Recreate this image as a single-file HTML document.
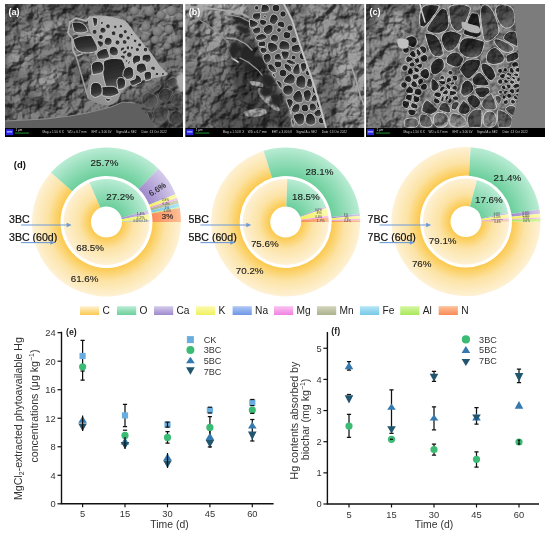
<!DOCTYPE html>
<html><head><meta charset="utf-8"><title>Figure</title>
<style>html,body{margin:0;padding:0;background:#fff;}svg{display:block;}</style>
</head><body>
<svg width="550" height="537" viewBox="0 0 550 537" font-family="'Liberation Sans', Arial, sans-serif">
<defs>

<filter id="blur3" x="-10%" y="-10%" width="120%" height="120%"><feGaussianBlur stdDeviation="2.6"/></filter>
<filter id="blur1" x="-10%" y="-10%" width="120%" height="120%"><feGaussianBlur stdDeviation="0.9"/></filter>
<filter id="blur05" x="-10%" y="-10%" width="120%" height="120%"><feGaussianBlur stdDeviation="0.45"/></filter>
<linearGradient id="pore" x1="0" y1="0" x2="0.3" y2="1"><stop offset="0" stop-color="#1c1c1c"/><stop offset="0.6" stop-color="#2e2e2e"/><stop offset="1" stop-color="#565656"/></linearGradient>
<linearGradient id="cellg" x1="0" y1="0" x2="0.2" y2="1"><stop offset="0" stop-color="#1e1e1e"/><stop offset="0.7" stop-color="#333"/><stop offset="1" stop-color="#5a5a5a"/></linearGradient>
<linearGradient id="cellg2" x1="0" y1="0" x2="0.2" y2="1"><stop offset="0" stop-color="#3a3a3a"/><stop offset="1" stop-color="#5e5e5e"/></linearGradient>
<linearGradient id="meshg" x1="1" y1="0" x2="0" y2="1"><stop offset="0.2" stop-color="#b4b4b4"/><stop offset="1" stop-color="#8a8a8a"/></linearGradient>
<radialGradient id="lump" cx="0.4" cy="0.35" r="0.65"><stop offset="0" stop-color="#8e8e8e"/><stop offset="0.7" stop-color="#767676"/><stop offset="1" stop-color="#585858"/></radialGradient>
<linearGradient id="cellg3" x1="0" y1="0" x2="0.3" y2="1"><stop offset="0" stop-color="#505050"/><stop offset="1" stop-color="#8a8a8a"/></linearGradient>
<linearGradient id="pore2" x1="0" y1="0" x2="0.2" y2="1"><stop offset="0" stop-color="#222"/><stop offset="1" stop-color="#3c3c3c"/></linearGradient>
<filter id="tex" x="0" y="0" width="100%" height="100%" color-interpolation-filters="sRGB">
 <feTurbulence type="fractalNoise" baseFrequency="0.085" numOctaves="4" seed="2"/>
 <feDiffuseLighting surfaceScale="7" lighting-color="#b4b4b4" diffuseConstant="1"><feDistantLight azimuth="225" elevation="50"/></feDiffuseLighting>
</filter>
<filter id="texB" x="0" y="0" width="100%" height="100%" color-interpolation-filters="sRGB">
 <feTurbulence type="fractalNoise" baseFrequency="0.085" numOctaves="4" seed="7"/>
 <feDiffuseLighting surfaceScale="7" lighting-color="#b4b4b4" diffuseConstant="1"><feDistantLight azimuth="225" elevation="50"/></feDiffuseLighting>
</filter>
<filter id="texC" x="0" y="0" width="100%" height="100%" color-interpolation-filters="sRGB">
 <feTurbulence type="fractalNoise" baseFrequency="0.085" numOctaves="4" seed="11"/>
 <feDiffuseLighting surfaceScale="7" lighting-color="#b4b4b4" diffuseConstant="1"><feDistantLight azimuth="225" elevation="50"/></feDiffuseLighting>
</filter>
<filter id="texF" x="0" y="0" width="100%" height="100%" color-interpolation-filters="sRGB">
 <feTurbulence type="fractalNoise" baseFrequency="0.12 0.05" numOctaves="4" seed="5"/>
 <feDiffuseLighting surfaceScale="7" lighting-color="#b4b4b4" diffuseConstant="1"><feDistantLight azimuth="225" elevation="50"/></feDiffuseLighting>
</filter>


<clipPath id="cpa"><rect x="5" y="4" width="178" height="124"/></clipPath>
<clipPath id="cpb"><rect x="185.3" y="4" width="178.9" height="124"/></clipPath>
<clipPath id="cpc"><rect x="366" y="4" width="179" height="124"/></clipPath>
<radialGradient id="g00C" gradientUnits="userSpaceOnUse" cx="106.50" cy="222.00" r="74.50"><stop offset="0.617" stop-color="rgb(251,201,78)"/><stop offset="0.790" stop-color="rgb(252,227,165)"/><stop offset="1" stop-color="rgb(254,241,212)"/></radialGradient>
<radialGradient id="g00O" gradientUnits="userSpaceOnUse" cx="106.50" cy="222.00" r="74.50"><stop offset="0.617" stop-color="rgb(108,207,156)"/><stop offset="0.866" stop-color="rgb(158,225,192)"/><stop offset="1" stop-color="rgb(186,236,212)"/></radialGradient>
<radialGradient id="g00Ca" gradientUnits="userSpaceOnUse" cx="106.50" cy="222.00" r="74.50"><stop offset="0.617" stop-color="rgb(158,138,204)"/><stop offset="0.866" stop-color="rgb(194,180,224)"/><stop offset="1" stop-color="rgb(214,204,236)"/></radialGradient>
<radialGradient id="g00K" gradientUnits="userSpaceOnUse" cx="106.50" cy="222.00" r="74.50"><stop offset="0.617" stop-color="rgb(240,240,96)"/><stop offset="0.866" stop-color="rgb(247,247,147)"/><stop offset="1" stop-color="rgb(251,251,175)"/></radialGradient>
<radialGradient id="g00Na" gradientUnits="userSpaceOnUse" cx="106.50" cy="222.00" r="74.50"><stop offset="0.617" stop-color="rgb(110,150,230)"/><stop offset="0.866" stop-color="rgb(152,182,239)"/><stop offset="1" stop-color="rgb(175,200,245)"/></radialGradient>
<radialGradient id="g00Mg" gradientUnits="userSpaceOnUse" cx="106.50" cy="222.00" r="74.50"><stop offset="0.617" stop-color="rgb(240,130,225)"/><stop offset="0.866" stop-color="rgb(246,172,236)"/><stop offset="1" stop-color="rgb(250,195,242)"/></radialGradient>
<radialGradient id="g00Mn" gradientUnits="userSpaceOnUse" cx="106.50" cy="222.00" r="74.50"><stop offset="0.617" stop-color="rgb(172,178,140)"/><stop offset="0.866" stop-color="rgb(198,200,171)"/><stop offset="1" stop-color="rgb(212,212,188)"/></radialGradient>
<radialGradient id="g00Fe" gradientUnits="userSpaceOnUse" cx="106.50" cy="222.00" r="74.50"><stop offset="0.617" stop-color="rgb(118,200,232)"/><stop offset="0.866" stop-color="rgb(159,219,241)"/><stop offset="1" stop-color="rgb(182,230,246)"/></radialGradient>
<radialGradient id="g00Al" gradientUnits="userSpaceOnUse" cx="106.50" cy="222.00" r="74.50"><stop offset="0.617" stop-color="rgb(170,232,90)"/><stop offset="0.866" stop-color="rgb(197,241,136)"/><stop offset="1" stop-color="rgb(212,246,162)"/></radialGradient>
<radialGradient id="g00N" gradientUnits="userSpaceOnUse" cx="106.50" cy="222.00" r="74.50"><stop offset="0.617" stop-color="rgb(250,140,88)"/><stop offset="0.866" stop-color="rgb(251,173,129)"/><stop offset="1" stop-color="rgb(253,192,152)"/></radialGradient>
<radialGradient id="g01C" gradientUnits="userSpaceOnUse" cx="106.50" cy="222.00" r="43.00"><stop offset="0.360" stop-color="rgb(251,201,78)"/><stop offset="0.629" stop-color="rgb(252,227,165)"/><stop offset="1" stop-color="rgb(254,241,212)"/></radialGradient>
<radialGradient id="g01O" gradientUnits="userSpaceOnUse" cx="106.50" cy="222.00" r="43.00"><stop offset="0.360" stop-color="rgb(108,207,156)"/><stop offset="0.776" stop-color="rgb(158,225,192)"/><stop offset="1" stop-color="rgb(186,236,212)"/></radialGradient>
<radialGradient id="g01Ca" gradientUnits="userSpaceOnUse" cx="106.50" cy="222.00" r="43.00"><stop offset="0.360" stop-color="rgb(158,138,204)"/><stop offset="0.776" stop-color="rgb(194,180,224)"/><stop offset="1" stop-color="rgb(214,204,236)"/></radialGradient>
<radialGradient id="g01K" gradientUnits="userSpaceOnUse" cx="106.50" cy="222.00" r="43.00"><stop offset="0.360" stop-color="rgb(240,240,96)"/><stop offset="0.776" stop-color="rgb(247,247,147)"/><stop offset="1" stop-color="rgb(251,251,175)"/></radialGradient>
<radialGradient id="g01Na" gradientUnits="userSpaceOnUse" cx="106.50" cy="222.00" r="43.00"><stop offset="0.360" stop-color="rgb(110,150,230)"/><stop offset="0.776" stop-color="rgb(152,182,239)"/><stop offset="1" stop-color="rgb(175,200,245)"/></radialGradient>
<radialGradient id="g01Mg" gradientUnits="userSpaceOnUse" cx="106.50" cy="222.00" r="43.00"><stop offset="0.360" stop-color="rgb(240,130,225)"/><stop offset="0.776" stop-color="rgb(246,172,236)"/><stop offset="1" stop-color="rgb(250,195,242)"/></radialGradient>
<radialGradient id="g01Mn" gradientUnits="userSpaceOnUse" cx="106.50" cy="222.00" r="43.00"><stop offset="0.360" stop-color="rgb(172,178,140)"/><stop offset="0.776" stop-color="rgb(198,200,171)"/><stop offset="1" stop-color="rgb(212,212,188)"/></radialGradient>
<radialGradient id="g01Fe" gradientUnits="userSpaceOnUse" cx="106.50" cy="222.00" r="43.00"><stop offset="0.360" stop-color="rgb(118,200,232)"/><stop offset="0.776" stop-color="rgb(159,219,241)"/><stop offset="1" stop-color="rgb(182,230,246)"/></radialGradient>
<radialGradient id="g01Al" gradientUnits="userSpaceOnUse" cx="106.50" cy="222.00" r="43.00"><stop offset="0.360" stop-color="rgb(170,232,90)"/><stop offset="0.776" stop-color="rgb(197,241,136)"/><stop offset="1" stop-color="rgb(212,246,162)"/></radialGradient>
<radialGradient id="g01N" gradientUnits="userSpaceOnUse" cx="106.50" cy="222.00" r="43.00"><stop offset="0.360" stop-color="rgb(250,140,88)"/><stop offset="0.776" stop-color="rgb(251,173,129)"/><stop offset="1" stop-color="rgb(253,192,152)"/></radialGradient>
<radialGradient id="g10C" gradientUnits="userSpaceOnUse" cx="285.70" cy="222.00" r="74.50"><stop offset="0.617" stop-color="rgb(251,201,78)"/><stop offset="0.790" stop-color="rgb(252,227,165)"/><stop offset="1" stop-color="rgb(254,241,212)"/></radialGradient>
<radialGradient id="g10O" gradientUnits="userSpaceOnUse" cx="285.70" cy="222.00" r="74.50"><stop offset="0.617" stop-color="rgb(108,207,156)"/><stop offset="0.866" stop-color="rgb(158,225,192)"/><stop offset="1" stop-color="rgb(186,236,212)"/></radialGradient>
<radialGradient id="g10Ca" gradientUnits="userSpaceOnUse" cx="285.70" cy="222.00" r="74.50"><stop offset="0.617" stop-color="rgb(158,138,204)"/><stop offset="0.866" stop-color="rgb(194,180,224)"/><stop offset="1" stop-color="rgb(214,204,236)"/></radialGradient>
<radialGradient id="g10K" gradientUnits="userSpaceOnUse" cx="285.70" cy="222.00" r="74.50"><stop offset="0.617" stop-color="rgb(240,240,96)"/><stop offset="0.866" stop-color="rgb(247,247,147)"/><stop offset="1" stop-color="rgb(251,251,175)"/></radialGradient>
<radialGradient id="g10Mg" gradientUnits="userSpaceOnUse" cx="285.70" cy="222.00" r="74.50"><stop offset="0.617" stop-color="rgb(240,130,225)"/><stop offset="0.866" stop-color="rgb(246,172,236)"/><stop offset="1" stop-color="rgb(250,195,242)"/></radialGradient>
<radialGradient id="g10Fe" gradientUnits="userSpaceOnUse" cx="285.70" cy="222.00" r="74.50"><stop offset="0.617" stop-color="rgb(118,200,232)"/><stop offset="0.866" stop-color="rgb(159,219,241)"/><stop offset="1" stop-color="rgb(182,230,246)"/></radialGradient>
<radialGradient id="g10N" gradientUnits="userSpaceOnUse" cx="285.70" cy="222.00" r="74.50"><stop offset="0.617" stop-color="rgb(250,140,88)"/><stop offset="0.866" stop-color="rgb(251,173,129)"/><stop offset="1" stop-color="rgb(253,192,152)"/></radialGradient>
<radialGradient id="g11C" gradientUnits="userSpaceOnUse" cx="285.70" cy="222.00" r="43.00"><stop offset="0.360" stop-color="rgb(251,201,78)"/><stop offset="0.629" stop-color="rgb(252,227,165)"/><stop offset="1" stop-color="rgb(254,241,212)"/></radialGradient>
<radialGradient id="g11O" gradientUnits="userSpaceOnUse" cx="285.70" cy="222.00" r="43.00"><stop offset="0.360" stop-color="rgb(108,207,156)"/><stop offset="0.776" stop-color="rgb(158,225,192)"/><stop offset="1" stop-color="rgb(186,236,212)"/></radialGradient>
<radialGradient id="g11Ca" gradientUnits="userSpaceOnUse" cx="285.70" cy="222.00" r="43.00"><stop offset="0.360" stop-color="rgb(158,138,204)"/><stop offset="0.776" stop-color="rgb(194,180,224)"/><stop offset="1" stop-color="rgb(214,204,236)"/></radialGradient>
<radialGradient id="g11K" gradientUnits="userSpaceOnUse" cx="285.70" cy="222.00" r="43.00"><stop offset="0.360" stop-color="rgb(240,240,96)"/><stop offset="0.776" stop-color="rgb(247,247,147)"/><stop offset="1" stop-color="rgb(251,251,175)"/></radialGradient>
<radialGradient id="g11Mg" gradientUnits="userSpaceOnUse" cx="285.70" cy="222.00" r="43.00"><stop offset="0.360" stop-color="rgb(240,130,225)"/><stop offset="0.776" stop-color="rgb(246,172,236)"/><stop offset="1" stop-color="rgb(250,195,242)"/></radialGradient>
<radialGradient id="g11N" gradientUnits="userSpaceOnUse" cx="285.70" cy="222.00" r="43.00"><stop offset="0.360" stop-color="rgb(250,140,88)"/><stop offset="0.776" stop-color="rgb(251,173,129)"/><stop offset="1" stop-color="rgb(253,192,152)"/></radialGradient>
<radialGradient id="g20C" gradientUnits="userSpaceOnUse" cx="466.00" cy="221.60" r="74.50"><stop offset="0.617" stop-color="rgb(251,201,78)"/><stop offset="0.790" stop-color="rgb(252,227,165)"/><stop offset="1" stop-color="rgb(254,241,212)"/></radialGradient>
<radialGradient id="g20O" gradientUnits="userSpaceOnUse" cx="466.00" cy="221.60" r="74.50"><stop offset="0.617" stop-color="rgb(108,207,156)"/><stop offset="0.866" stop-color="rgb(158,225,192)"/><stop offset="1" stop-color="rgb(186,236,212)"/></radialGradient>
<radialGradient id="g20Ca" gradientUnits="userSpaceOnUse" cx="466.00" cy="221.60" r="74.50"><stop offset="0.617" stop-color="rgb(158,138,204)"/><stop offset="0.866" stop-color="rgb(194,180,224)"/><stop offset="1" stop-color="rgb(214,204,236)"/></radialGradient>
<radialGradient id="g20K" gradientUnits="userSpaceOnUse" cx="466.00" cy="221.60" r="74.50"><stop offset="0.617" stop-color="rgb(240,240,96)"/><stop offset="0.866" stop-color="rgb(247,247,147)"/><stop offset="1" stop-color="rgb(251,251,175)"/></radialGradient>
<radialGradient id="g20Mg" gradientUnits="userSpaceOnUse" cx="466.00" cy="221.60" r="74.50"><stop offset="0.617" stop-color="rgb(240,130,225)"/><stop offset="0.866" stop-color="rgb(246,172,236)"/><stop offset="1" stop-color="rgb(250,195,242)"/></radialGradient>
<radialGradient id="g20Al" gradientUnits="userSpaceOnUse" cx="466.00" cy="221.60" r="74.50"><stop offset="0.617" stop-color="rgb(170,232,90)"/><stop offset="0.866" stop-color="rgb(197,241,136)"/><stop offset="1" stop-color="rgb(212,246,162)"/></radialGradient>
<radialGradient id="g21C" gradientUnits="userSpaceOnUse" cx="466.00" cy="221.60" r="43.00"><stop offset="0.360" stop-color="rgb(251,201,78)"/><stop offset="0.629" stop-color="rgb(252,227,165)"/><stop offset="1" stop-color="rgb(254,241,212)"/></radialGradient>
<radialGradient id="g21O" gradientUnits="userSpaceOnUse" cx="466.00" cy="221.60" r="43.00"><stop offset="0.360" stop-color="rgb(108,207,156)"/><stop offset="0.776" stop-color="rgb(158,225,192)"/><stop offset="1" stop-color="rgb(186,236,212)"/></radialGradient>
<radialGradient id="g21Ca" gradientUnits="userSpaceOnUse" cx="466.00" cy="221.60" r="43.00"><stop offset="0.360" stop-color="rgb(158,138,204)"/><stop offset="0.776" stop-color="rgb(194,180,224)"/><stop offset="1" stop-color="rgb(214,204,236)"/></radialGradient>
<radialGradient id="g21K" gradientUnits="userSpaceOnUse" cx="466.00" cy="221.60" r="43.00"><stop offset="0.360" stop-color="rgb(240,240,96)"/><stop offset="0.776" stop-color="rgb(247,247,147)"/><stop offset="1" stop-color="rgb(251,251,175)"/></radialGradient>
<radialGradient id="g21Mg" gradientUnits="userSpaceOnUse" cx="466.00" cy="221.60" r="43.00"><stop offset="0.360" stop-color="rgb(240,130,225)"/><stop offset="0.776" stop-color="rgb(246,172,236)"/><stop offset="1" stop-color="rgb(250,195,242)"/></radialGradient>
<radialGradient id="g21Mn" gradientUnits="userSpaceOnUse" cx="466.00" cy="221.60" r="43.00"><stop offset="0.360" stop-color="rgb(172,178,140)"/><stop offset="0.776" stop-color="rgb(198,200,171)"/><stop offset="1" stop-color="rgb(212,212,188)"/></radialGradient>
<radialGradient id="g21N" gradientUnits="userSpaceOnUse" cx="466.00" cy="221.60" r="43.00"><stop offset="0.360" stop-color="rgb(250,140,88)"/><stop offset="0.776" stop-color="rgb(251,173,129)"/><stop offset="1" stop-color="rgb(253,192,152)"/></radialGradient>
<linearGradient id="lgC" x1="0" y1="0" x2="0" y2="1"><stop offset="0" stop-color="rgb(254,241,212)"/><stop offset="1" stop-color="rgb(251,201,78)"/></linearGradient>
<linearGradient id="lgO" x1="0" y1="0" x2="0" y2="1"><stop offset="0" stop-color="rgb(186,236,212)"/><stop offset="1" stop-color="rgb(108,207,156)"/></linearGradient>
<linearGradient id="lgCa" x1="0" y1="0" x2="0" y2="1"><stop offset="0" stop-color="rgb(214,204,236)"/><stop offset="1" stop-color="rgb(158,138,204)"/></linearGradient>
<linearGradient id="lgK" x1="0" y1="0" x2="0" y2="1"><stop offset="0" stop-color="rgb(251,251,175)"/><stop offset="1" stop-color="rgb(240,240,96)"/></linearGradient>
<linearGradient id="lgNa" x1="0" y1="0" x2="0" y2="1"><stop offset="0" stop-color="rgb(175,200,245)"/><stop offset="1" stop-color="rgb(110,150,230)"/></linearGradient>
<linearGradient id="lgMg" x1="0" y1="0" x2="0" y2="1"><stop offset="0" stop-color="rgb(250,195,242)"/><stop offset="1" stop-color="rgb(240,130,225)"/></linearGradient>
<linearGradient id="lgMn" x1="0" y1="0" x2="0" y2="1"><stop offset="0" stop-color="rgb(212,212,188)"/><stop offset="1" stop-color="rgb(172,178,140)"/></linearGradient>
<linearGradient id="lgFe" x1="0" y1="0" x2="0" y2="1"><stop offset="0" stop-color="rgb(182,230,246)"/><stop offset="1" stop-color="rgb(118,200,232)"/></linearGradient>
<linearGradient id="lgAl" x1="0" y1="0" x2="0" y2="1"><stop offset="0" stop-color="rgb(212,246,162)"/><stop offset="1" stop-color="rgb(170,232,90)"/></linearGradient>
<linearGradient id="lgN" x1="0" y1="0" x2="0" y2="1"><stop offset="0" stop-color="rgb(253,192,152)"/><stop offset="1" stop-color="rgb(250,140,88)"/></linearGradient>

</defs>
<rect width="550" height="537" fill="#fff"/>
<g clip-path="url(#cpa)" style="isolation:isolate">
<g filter="url(#blur3)"><rect x="0" y="0" width="190" height="135" fill="#686868"/><polygon points="0.0,0.0 32.0,0.0 18.0,14.0 8.0,32.0 0.0,34.0" fill="#454545"/><polygon points="38.0,0.0 125.0,0.0 118.0,14.0 90.0,13.0 70.0,16.0 50.0,11.0" fill="#4e4e4e"/><ellipse cx="36.0" cy="37.0" rx="15.0" ry="8.0" fill="#828282" transform="rotate(-15 36.0 37.0)"/><ellipse cx="55.0" cy="26.0" rx="10.0" ry="6.0" fill="#7a7a7a"/><ellipse cx="18.0" cy="60.0" rx="11.0" ry="8.0" fill="#7a7a7a"/><ellipse cx="48.0" cy="80.0" rx="14.0" ry="10.0" fill="#7c7c7c"/><ellipse cx="28.0" cy="45.0" rx="4.0" ry="6.0" fill="#474747"/><ellipse cx="15.0" cy="76.0" rx="5.0" ry="8.0" fill="#4d4d4d"/><ellipse cx="30.0" cy="101.0" rx="6.0" ry="7.0" fill="#444444"/><ellipse cx="40.0" cy="104.0" rx="4.0" ry="6.0" fill="#404040"/><ellipse cx="56.0" cy="95.0" rx="4.0" ry="5.0" fill="#4f4f4f"/><ellipse cx="45.0" cy="63.0" rx="5.0" ry="4.0" fill="#525252"/><ellipse cx="78.0" cy="70.0" rx="6.0" ry="6.0" fill="#505050"/><ellipse cx="85.0" cy="75.0" rx="4.0" ry="8.0" fill="#4a4a4a"/><polygon points="0.0,0.0 8.0,0.0 8.0,135.0 0.0,135.0" fill="#505050"/><polygon points="110.0,0.0 190.0,0.0 190.0,70.0 168.0,70.0 150.0,45.0 125.0,18.0" fill="#616161"/><ellipse cx="150.0" cy="10.0" rx="5.0" ry="4.5" fill="#8a8a8a"/><ellipse cx="168.0" cy="13.0" rx="6.0" ry="5.4" fill="#868686"/><ellipse cx="145.0" cy="28.0" rx="5.0" ry="4.5" fill="#878787"/><ellipse cx="158.0" cy="31.0" rx="5.0" ry="4.5" fill="#888888"/><ellipse cx="150.0" cy="39.0" rx="4.0" ry="3.6" fill="#7f7f7f"/><ellipse cx="170.0" cy="36.0" rx="5.0" ry="4.5" fill="#7e7e7e"/><ellipse cx="178.0" cy="20.0" rx="5.0" ry="4.5" fill="#8c8c8c"/><ellipse cx="135.0" cy="12.0" rx="4.0" ry="3.6" fill="#757575"/><ellipse cx="162.0" cy="48.0" rx="4.0" ry="3.6" fill="#7a7a7a"/><ellipse cx="176.0" cy="52.0" rx="4.0" ry="3.6" fill="#6e6e6e"/><ellipse cx="130.0" cy="8.0" rx="5.0" ry="4.5" fill="#505050"/><polygon points="110.0,0.0 190.0,0.0 190.0,5.0 110.0,6.0" fill="#4a4a4a"/><polygon points="132.0,100.0 150.0,88.0 165.0,78.0 190.0,68.0 190.0,135.0 160.0,135.0 145.0,112.0" fill="#4a4a4a"/><ellipse cx="183.0" cy="82.0" rx="6.0" ry="10.0" fill="#a8a8a8"/><ellipse cx="120.0" cy="98.0" rx="12.0" ry="6.0" fill="#5a5a5a"/></g>
<rect x="5" y="4" width="178" height="124" filter="url(#tex)" style="mix-blend-mode:overlay" opacity="0.65"/>
<g filter="url(#blur05)"><circle cx="149.5" cy="10.9" r="5.2" fill="url(#lump)"/><circle cx="161.0" cy="15.0" r="4.6" fill="url(#lump)"/><circle cx="171.4" cy="10.9" r="5.2" fill="url(#lump)"/><circle cx="179.5" cy="16.7" r="4.0" fill="url(#lump)"/><circle cx="146.0" cy="27.0" r="4.6" fill="url(#lump)"/><circle cx="157.6" cy="31.7" r="5.2" fill="url(#lump)"/><circle cx="144.9" cy="37.4" r="4.0" fill="url(#lump)"/><circle cx="155.3" cy="39.8" r="4.0" fill="url(#lump)"/><circle cx="169.0" cy="29.4" r="4.6" fill="url(#lump)"/><circle cx="175.0" cy="38.6" r="4.0" fill="url(#lump)"/><circle cx="134.5" cy="10.9" r="4.4" fill="url(#lump)"/><circle cx="130.0" cy="19.0" r="3.4" fill="url(#lump)"/><circle cx="167.0" cy="46.0" r="3.6" fill="url(#lump)"/><circle cx="178.0" cy="52.0" r="3.5" fill="url(#lump)"/><circle cx="160.0" cy="52.0" r="3.0" fill="url(#lump)"/></g>
<g opacity="0.5"><g filter="url(#blur05)"><path d="M148.1,92.0 Q147.4,92.1 146.3,92.7 Q145.1,93.3 144.2,94.2 Q143.3,95.1 142.7,96.3 Q142.1,97.4 141.9,98.7 Q141.7,100.0 141.9,101.3 Q142.1,102.6 142.7,103.7 Q143.3,104.9 144.2,105.8 Q145.1,106.7 146.3,107.3 Q147.4,107.9 148.7,108.1 Q150.0,108.3 151.3,108.1 Q152.6,107.9 153.5,107.4 Q154.5,106.9 155.6,105.9 Q156.7,104.9 157.3,103.7 Q157.9,102.6 158.0,101.6 Q158.2,100.6 157.1,97.8 Q156.0,95.0 152.3,93.5 Q148.7,91.9 148.1,92.0Z" fill="url(#cellg2)" stroke="#8a8a8a" stroke-width="1"/><path d="M172.9,91.8 Q172.9,91.4 168.7,89.0 Q164.5,86.5 160.9,90.6 Q157.3,94.6 158.4,97.4 Q159.5,100.1 159.8,100.4 Q160.1,100.7 161.3,101.3 Q162.4,101.9 163.7,102.1 Q165.0,102.3 166.3,102.1 Q167.6,101.9 168.2,101.6 Q168.8,101.3 170.9,96.7 Q173.0,92.1 172.9,91.8Z" fill="url(#cellg)" stroke="#8a8a8a" stroke-width="1"/><path d="M170.9,101.3 Q171.1,102.3 171.6,103.3 Q172.1,104.3 172.9,105.1 Q173.7,105.9 174.7,106.4 Q175.7,106.9 176.9,107.1 Q178.0,107.3 179.1,107.1 Q180.3,106.9 181.3,106.4 Q182.3,105.9 182.3,100.0 Q182.3,94.1 181.3,93.6 Q180.3,93.1 179.1,92.9 Q178.0,92.7 176.9,92.9 Q175.7,93.1 174.7,93.6 Q173.7,94.1 172.2,97.2 Q170.8,100.3 170.9,101.3Z" fill="url(#cellg2)" stroke="#8a8a8a" stroke-width="1"/><path d="M147.2,110.9 Q146.1,110.7 146.4,111.2 Q146.7,111.8 148.8,117.5 Q151.0,123.2 151.4,122.8 Q151.9,122.3 152.4,121.3 Q152.9,120.3 153.1,119.1 Q153.3,118.0 152.9,116.4 Q152.5,114.8 152.2,114.3 Q151.9,113.7 151.1,112.9 Q150.3,112.1 149.3,111.6 Q148.3,111.1 147.2,110.9Z" fill="url(#cellg)" stroke="#8a8a8a" stroke-width="1"/><path d="M167.8,115.6 Q168.9,111.4 168.3,110.3 Q167.7,109.1 166.8,108.2 Q165.9,107.3 164.7,106.7 Q163.6,106.1 162.3,105.9 Q161.0,105.7 159.7,105.9 Q158.4,106.1 157.5,106.6 Q156.5,107.1 155.4,108.1 Q154.3,109.1 153.7,110.4 Q153.1,111.7 154.2,115.8 Q155.2,119.8 155.7,120.3 Q156.1,120.7 157.3,121.3 Q158.4,121.9 159.7,122.1 Q161.0,122.3 162.3,122.1 Q163.6,121.9 164.7,121.3 Q165.9,120.7 166.3,120.3 Q166.8,119.8 167.8,115.6Z" fill="url(#cellg2)" stroke="#8a8a8a" stroke-width="1"/><path d="M169.1,116.4 Q168.7,118.0 168.9,119.1 Q169.1,120.3 169.6,121.3 Q170.1,122.3 170.9,123.1 Q171.7,123.9 172.7,124.4 Q173.7,124.9 174.9,125.1 Q176.0,125.3 177.1,125.1 Q178.3,124.9 179.3,124.4 Q180.3,123.9 181.1,123.1 Q181.9,122.3 182.1,121.9 Q182.3,121.5 182.3,118.0 Q182.3,114.5 182.1,114.1 Q181.9,113.7 181.1,112.9 Q180.3,112.1 179.3,111.6 Q178.3,111.1 177.1,110.9 Q176.0,110.7 174.9,110.9 Q173.7,111.1 172.7,111.6 Q171.7,112.1 170.9,112.9 Q170.1,113.7 169.8,114.3 Q169.5,114.8 169.1,116.4Z" fill="url(#cellg)" stroke="#8a8a8a" stroke-width="1"/><path d="M176.7,79.6 Q176.3,78.9 175.7,78.3 Q175.1,77.7 174.3,77.3 Q173.6,77.0 170.4,78.4 Q167.3,79.8 167.1,80.1 Q167.0,80.4 166.8,81.2 Q166.7,82.0 166.8,82.8 Q167.0,83.6 167.3,84.4 Q167.7,85.1 168.3,85.7 Q168.9,86.3 169.6,86.7 Q170.4,87.0 171.2,87.2 Q172.0,87.3 172.8,87.2 Q173.6,87.0 174.4,86.7 Q175.1,86.3 175.7,85.7 Q176.3,85.1 176.7,84.4 Q177.0,83.6 177.2,82.8 Q177.3,82.0 177.2,81.2 Q177.0,80.4 176.7,79.6Z" fill="url(#cellg)" stroke="#8a8a8a" stroke-width="1"/><path d="M155.8,85.7 Q152.1,87.7 152.3,88.1 Q152.5,88.5 153.0,89.0 Q153.5,89.5 154.1,89.8 Q154.7,90.1 155.3,90.2 Q156.0,90.3 156.7,90.2 Q157.3,90.1 157.9,89.8 Q158.5,89.5 159.0,89.0 Q159.5,88.5 159.8,87.9 Q160.1,87.3 160.2,86.7 Q160.3,86.0 160.2,85.3 Q160.1,84.7 159.8,84.2 Q159.6,83.7 155.8,85.7Z" fill="url(#cellg2)" stroke="#8a8a8a" stroke-width="1"/></g></g>
<g filter="url(#blur1)"><ellipse cx="183.0" cy="82.0" rx="5.0" ry="9.0" fill="#a8a8a8"/></g>
<g filter="url(#blur05)"><polygon points="0.0,121.0 45.0,119.0 70.0,116.0 87.0,113.0 111.0,107.0 123.0,102.0 135.0,103.0 143.0,110.0 152.0,121.0 158.0,135.0 0.0,135.0" fill="#5f5f5f"/></g>
<polyline points="6.0,121.0 45.0,119.0 70.0,116.0 87.0,113.0 111.0,107.0 123.0,102.0 135.0,103.0" fill="none" stroke="#8c8c8c" stroke-width="1" stroke-linejoin="round" stroke-linecap="round" filter="url(#blur05)"/>
<g filter="url(#blur05)"><path d="M90.0,17.0 C92.0,15.6 96.7,15.6 100.0,15.5 C103.3,15.4 106.7,15.9 110.0,16.5 C113.3,17.1 117.5,18.2 120.0,19.0 C122.5,19.8 123.3,19.8 125.0,21.0 C126.7,22.2 127.5,22.7 130.0,26.0 C132.5,29.3 136.3,36.3 140.0,41.0 C143.7,45.7 148.7,49.8 152.0,54.0 C155.3,58.2 157.5,62.8 160.0,66.0 C162.5,69.2 166.0,71.4 167.0,73.0 C168.0,74.6 167.7,74.8 166.0,75.5 C164.3,76.2 160.0,76.7 157.0,77.4 C154.0,78.1 151.3,78.8 148.0,79.6 C144.7,80.4 140.5,80.7 137.0,82.0 C133.5,83.3 129.7,85.7 127.0,87.5 C124.3,89.3 122.5,90.9 121.0,93.0 C119.5,95.1 119.8,98.0 118.0,100.0 C116.2,102.0 113.0,104.3 110.0,105.0 C107.0,105.7 103.0,104.7 100.0,104.0 C97.0,103.3 94.2,102.2 92.0,101.0 C89.8,99.8 87.7,99.7 87.0,97.0 C86.3,94.3 86.7,90.8 88.0,85.0 C89.3,79.2 93.2,67.5 95.0,62.0 C96.8,56.5 99.5,56.3 99.0,52.0 C98.5,47.7 93.8,40.7 92.0,36.0 C90.2,31.3 88.3,27.2 88.0,24.0 C87.7,20.8 88.0,18.4 90.0,17.0Z" fill="url(#meshg)"/><path d="M100.0,20.0 C101.7,14.0 116.7,18.2 125.0,24.0 C133.3,29.8 147.5,47.3 150.0,55.0 C152.5,62.7 145.8,69.2 140.0,70.0 C134.2,70.8 121.7,68.3 115.0,60.0 C108.3,51.7 98.3,26.0 100.0,20.0Z" fill="#b0b0b0"/><polyline points="70.0,22.0 76.0,18.0 86.0,21.0 90.0,17.0" fill="none" stroke="#b0b0b0" stroke-width="1.8" stroke-linejoin="round" stroke-linecap="round"/><polyline points="70.0,22.0 68.0,33.0 72.0,38.0 73.0,50.0 76.0,56.0 82.0,54.0" fill="none" stroke="#aaaaaa" stroke-width="1.8" stroke-linejoin="round" stroke-linecap="round"/><polyline points="74.0,34.0 82.0,34.0 90.0,34.0 96.0,40.0 99.0,48.0 95.0,54.0" fill="none" stroke="#a8a8a8" stroke-width="1.6" stroke-linejoin="round" stroke-linecap="round"/><polyline points="76.0,56.0 80.0,70.0 84.0,84.0 88.0,97.0" fill="none" stroke="#9c9c9c" stroke-width="1.5" stroke-linejoin="round" stroke-linecap="round"/><polygon points="73.9,39.8 80.6,36.4 90.7,35.8 98.5,48.7 94.0,52.0 81.8,53.2 76.2,48.7" fill="none"/></g>
<g filter="url(#blur05)"><path d="M74.1,44.1 Q75.0,48.5 78.3,51.0 Q81.6,53.5 88.2,53.0 Q94.8,52.5 96.9,50.8 Q99.0,49.1 95.3,42.4 Q91.6,35.6 91.3,35.5 Q91.1,35.4 85.6,35.6 Q80.2,35.9 76.8,37.6 Q73.4,39.2 73.3,39.4 Q73.2,39.7 74.1,44.1Z" fill="url(#cellg)" stroke="#cdcdcd" stroke-width="0.9"/><path d="M73.0,27.3 Q74.1,31.8 74.4,32.0 Q74.6,32.2 78.2,32.7 Q81.9,33.3 84.8,32.4 Q87.7,31.4 87.8,31.2 Q87.9,30.9 86.7,27.9 Q85.5,25.0 82.4,23.3 Q79.3,21.7 75.7,22.0 Q72.2,22.2 72.0,22.5 Q71.8,22.7 73.0,27.3Z" fill="url(#cellg)" stroke="#cdcdcd" stroke-width="0.9"/><path d="M93.0,21.8 Q93.6,26.1 93.8,26.3 Q94.0,26.5 95.8,26.1 Q97.6,25.7 97.6,22.1 Q97.7,18.6 97.5,18.4 Q97.4,18.2 95.1,17.7 Q92.9,17.1 92.7,17.2 Q92.5,17.2 92.4,17.4 Q92.4,17.6 93.0,21.8Z" fill="url(#cellg)" stroke="#cdcdcd" stroke-width="0.9"/><path d="M103.0,67.6 Q102.2,74.1 104.1,80.4 Q105.9,86.8 106.2,87.0 Q106.4,87.2 111.7,88.0 Q117.1,88.8 117.3,88.7 Q117.6,88.6 120.9,84.7 Q124.2,80.8 125.2,74.1 Q126.3,67.4 124.2,63.3 Q122.0,59.3 121.8,59.2 Q121.6,59.0 116.6,58.5 Q111.6,58.0 107.9,59.3 Q104.1,60.7 103.9,60.9 Q103.8,61.1 103.0,67.6Z" fill="url(#cellg)" stroke="#cdcdcd" stroke-width="0.9"/><path d="M123.5,71.2 Q122.7,75.2 122.8,75.5 Q122.9,75.7 124.8,77.7 Q126.8,79.7 127.0,79.7 Q127.3,79.8 130.8,78.8 Q134.2,77.7 133.7,72.0 Q133.1,66.2 128.6,66.7 Q124.2,67.3 123.5,71.2Z" fill="url(#cellg)" stroke="#cdcdcd" stroke-width="0.9"/><path d="M136.3,67.1 Q136.3,70.2 136.4,70.4 Q136.5,70.6 138.4,72.1 Q140.4,73.6 140.7,73.6 Q140.9,73.7 143.9,72.1 Q146.8,70.6 146.9,70.4 Q147.0,70.1 145.9,66.2 Q144.8,62.3 140.6,63.2 Q136.4,64.1 136.3,67.1Z" fill="url(#cellg)" stroke="#cdcdcd" stroke-width="0.9"/><path d="M144.2,76.1 Q145.0,80.2 145.3,80.3 Q145.5,80.5 147.2,80.3 Q148.8,80.0 150.3,79.6 Q151.8,79.3 151.7,75.0 Q151.7,70.8 147.5,71.4 Q143.4,71.9 144.2,76.1Z" fill="url(#cellg)" stroke="#cdcdcd" stroke-width="0.9"/><path d="M117.0,83.5 Q117.9,89.5 118.2,89.7 Q118.4,89.8 122.0,88.9 Q125.6,88.0 125.6,82.8 Q125.6,77.5 120.8,77.5 Q116.1,77.5 117.0,83.5Z" fill="url(#cellg)" stroke="#cdcdcd" stroke-width="0.9"/><path d="M101.7,91.2 Q102.2,95.3 102.4,95.5 Q102.5,95.6 106.5,96.6 Q110.6,97.5 114.9,95.5 Q119.2,93.4 119.3,93.2 Q119.4,92.9 117.7,89.4 Q116.1,85.8 108.9,86.3 Q101.6,86.8 101.4,87.0 Q101.3,87.2 101.7,91.2Z" fill="url(#cellg)" stroke="#cdcdcd" stroke-width="0.9"/><path d="M90.6,88.3 Q90.5,94.2 90.6,94.5 Q90.8,94.7 92.7,96.2 Q94.7,97.6 95.0,97.6 Q95.3,97.7 99.2,96.0 Q103.1,94.3 102.0,88.3 Q100.9,82.4 95.8,82.4 Q90.6,82.4 90.6,88.3Z" fill="url(#cellg)" stroke="#cdcdcd" stroke-width="0.9"/><path d="M91.5,68.4 Q92.4,74.5 92.7,74.6 Q92.9,74.8 98.8,73.7 Q104.7,72.6 103.7,66.5 Q102.6,60.5 96.5,61.4 Q90.5,62.4 91.5,68.4Z" fill="url(#cellg)" stroke="#cdcdcd" stroke-width="0.9"/><path d="M107.8,98.4 Q105.6,97.9 105.6,98.7 Q105.6,99.5 105.8,99.9 Q106.0,100.2 106.7,100.7 Q107.4,101.3 108.3,101.3 Q109.2,101.3 109.6,101.1 Q109.9,100.9 110.4,100.2 Q111.0,99.5 111.0,99.2 Q111.1,98.8 110.5,98.9 Q109.9,98.9 107.8,98.4Z" fill="url(#pore)" stroke="#cdcdcd" stroke-width="0.9"/><path d="M103.1,22.1 Q102.8,21.8 102.4,21.6 Q101.9,21.5 101.3,21.8 Q100.7,22.1 100.5,22.8 Q100.4,23.5 100.7,23.9 Q101.0,24.2 101.4,24.4 Q101.9,24.5 102.5,24.2 Q103.1,23.9 103.3,23.2 Q103.4,22.5 103.1,22.1Z" fill="url(#pore2)" stroke="#cdcdcd" stroke-width="0.9"/><path d="M109.9,24.9 Q109.4,24.3 108.7,24.1 Q108.0,23.9 107.6,23.9 Q107.2,24.0 106.6,24.4 Q106.0,24.9 105.8,25.2 Q105.7,25.5 105.7,26.3 Q105.7,27.1 106.1,27.7 Q106.6,28.3 107.3,28.5 Q108.0,28.7 108.4,28.7 Q108.8,28.6 109.4,28.2 Q110.0,27.7 110.2,27.4 Q110.3,27.1 110.3,26.3 Q110.3,25.5 109.9,24.9Z" fill="url(#pore2)" stroke="#cdcdcd" stroke-width="0.9"/><path d="M116.6,25.6 Q116.4,25.4 115.8,25.3 Q115.3,25.1 114.8,25.3 Q114.2,25.4 114.0,25.6 Q113.8,25.8 113.7,26.1 Q113.6,26.3 113.6,26.9 Q113.6,27.5 113.9,27.9 Q114.2,28.4 114.8,28.5 Q115.3,28.7 115.8,28.5 Q116.4,28.4 116.6,28.2 Q116.8,28.0 116.9,27.4 Q117.1,26.9 116.9,26.4 Q116.8,25.8 116.6,25.6Z" fill="url(#pore2)" stroke="#cdcdcd" stroke-width="0.9"/><path d="M122.2,25.4 Q121.9,25.0 121.4,24.8 Q120.9,24.6 120.4,24.8 Q119.9,25.0 119.7,25.1 Q119.6,25.3 119.4,25.6 Q119.3,25.8 119.3,26.3 Q119.3,26.8 119.6,27.2 Q119.9,27.6 120.4,27.8 Q120.9,28.0 121.4,27.8 Q121.9,27.6 122.1,27.5 Q122.2,27.3 122.4,27.0 Q122.5,26.8 122.5,26.3 Q122.5,25.8 122.2,25.4Z" fill="url(#pore2)" stroke="#cdcdcd" stroke-width="0.9"/><path d="M96.4,30.1 Q96.1,29.8 95.4,29.6 Q94.6,29.3 94.2,29.4 Q93.8,29.5 93.2,29.9 Q92.5,30.4 92.3,31.1 Q92.0,31.9 92.3,32.7 Q92.5,33.4 92.8,33.7 Q93.1,34.0 93.8,34.2 Q94.6,34.5 95.0,34.4 Q95.4,34.3 96.0,33.9 Q96.7,33.4 96.9,32.7 Q97.2,31.9 96.9,31.1 Q96.7,30.4 96.4,30.1Z" fill="url(#pore2)" stroke="#cdcdcd" stroke-width="0.9"/><path d="M103.7,27.4 Q103.0,27.2 102.5,27.3 Q102.0,27.4 101.6,27.6 Q101.2,27.8 100.8,28.1 Q100.5,28.5 100.3,28.9 Q100.1,29.3 100.0,29.8 Q99.9,30.3 100.0,30.8 Q100.1,31.3 100.3,31.7 Q100.5,32.1 101.2,32.7 Q101.9,33.2 102.5,33.3 Q103.0,33.4 103.5,33.3 Q104.0,33.2 104.4,33.0 Q104.8,32.8 105.2,32.5 Q105.5,32.1 105.7,31.7 Q105.9,31.3 106.0,30.8 Q106.1,30.3 106.0,30.0 Q106.0,29.6 105.2,28.6 Q104.3,27.5 103.7,27.4Z" fill="url(#pore)" stroke="#cdcdcd" stroke-width="0.9"/><path d="M115.5,31.9 Q115.0,31.3 114.3,31.1 Q113.6,30.9 113.2,30.9 Q112.8,31.0 112.2,31.4 Q111.6,31.9 111.4,32.2 Q111.3,32.5 111.3,33.3 Q111.3,34.1 111.7,34.7 Q112.2,35.3 112.9,35.5 Q113.6,35.7 114.0,35.7 Q114.4,35.6 115.0,35.2 Q115.6,34.7 115.8,34.4 Q115.9,34.1 115.9,33.3 Q115.9,32.5 115.5,31.9Z" fill="url(#pore2)" stroke="#cdcdcd" stroke-width="0.9"/><path d="M121.6,33.3 Q120.9,33.1 120.5,33.2 Q120.1,33.2 119.4,33.7 Q118.7,34.2 118.5,35.0 Q118.2,35.8 118.5,36.6 Q118.7,37.4 119.4,37.9 Q120.1,38.4 120.5,38.4 Q120.9,38.5 121.3,38.4 Q121.7,38.4 122.4,37.9 Q123.1,37.4 123.3,36.6 Q123.6,35.8 123.5,35.2 Q123.3,34.6 122.8,34.1 Q122.2,33.5 121.6,33.3Z" fill="url(#pore2)" stroke="#cdcdcd" stroke-width="0.9"/><path d="M102.6,35.2 Q102.3,34.9 101.6,34.7 Q100.8,34.4 100.4,34.5 Q100.0,34.6 99.4,35.0 Q98.7,35.5 98.5,36.2 Q98.2,37.0 98.5,37.8 Q98.7,38.5 99.0,38.8 Q99.3,39.1 100.0,39.3 Q100.8,39.6 101.2,39.5 Q101.6,39.4 102.2,39.0 Q102.9,38.5 103.1,37.8 Q103.4,37.0 103.1,36.2 Q102.9,35.5 102.6,35.2Z" fill="url(#pore2)" stroke="#cdcdcd" stroke-width="0.9"/><path d="M105.1,44.2 Q105.6,44.7 106.1,45.0 Q106.7,45.3 107.4,45.4 Q108.0,45.5 108.6,45.4 Q109.3,45.3 109.9,45.0 Q110.4,44.7 110.9,44.3 Q111.3,43.8 111.6,43.3 Q111.9,42.7 112.0,42.0 Q112.1,41.4 112.0,40.8 Q111.9,40.1 111.6,39.5 Q111.3,39.0 110.9,38.5 Q110.4,38.1 109.9,37.8 Q109.3,37.5 108.6,37.4 Q108.0,37.3 107.4,37.4 Q106.7,37.5 106.2,37.7 Q105.7,38.0 104.8,39.6 Q103.9,41.2 104.2,42.4 Q104.6,43.7 105.1,44.2Z" fill="url(#pore)" stroke="#cdcdcd" stroke-width="0.9"/><path d="M119.3,40.7 Q119.0,40.4 118.3,40.2 Q117.5,39.9 117.1,40.0 Q116.7,40.1 116.1,40.5 Q115.4,41.0 115.2,41.7 Q114.9,42.5 115.2,43.3 Q115.4,44.0 115.7,44.3 Q116.0,44.6 116.7,44.8 Q117.5,45.1 117.9,45.0 Q118.3,44.9 118.9,44.5 Q119.6,44.0 119.8,43.3 Q120.1,42.5 119.8,41.7 Q119.6,41.0 119.3,40.7Z" fill="url(#pore2)" stroke="#cdcdcd" stroke-width="0.9"/><path d="M97.1,40.9 Q96.5,41.4 98.1,44.5 Q99.8,47.5 100.3,47.5 Q100.8,47.4 101.3,47.1 Q101.9,46.8 102.3,46.4 Q102.7,46.0 103.0,45.4 Q103.3,44.9 103.4,44.3 Q103.5,43.7 103.4,43.1 Q103.3,42.5 102.9,41.9 Q102.5,41.2 100.1,40.8 Q97.7,40.4 97.1,40.9Z" fill="url(#pore)" stroke="#cdcdcd" stroke-width="0.9"/><path d="M115.4,47.0 Q113.0,46.1 112.1,46.4 Q111.2,46.8 110.7,47.4 Q110.1,47.9 109.8,48.6 Q109.4,49.3 109.3,50.1 Q109.2,50.9 109.3,51.7 Q109.4,52.5 109.8,53.2 Q110.1,53.9 110.7,54.4 Q111.2,55.0 111.9,55.3 Q112.6,55.7 113.4,55.8 Q114.2,55.9 115.0,55.8 Q115.8,55.7 116.5,55.3 Q117.2,55.0 117.9,54.1 Q118.6,53.3 118.2,50.6 Q117.9,48.0 115.4,47.0Z" fill="url(#pore)" stroke="#cdcdcd" stroke-width="0.9"/><path d="M96.8,53.5 Q96.6,54.3 96.8,55.4 Q97.0,56.4 97.5,57.4 Q97.9,58.3 98.5,58.9 Q99.1,59.5 100.7,59.3 Q102.2,59.0 102.8,59.2 Q103.5,59.5 106.6,58.4 Q109.6,57.3 109.7,57.1 Q109.8,56.9 108.5,52.9 Q107.2,48.8 106.2,48.5 Q105.2,48.1 102.6,49.1 Q100.0,50.0 98.4,51.4 Q96.9,52.7 96.8,53.5Z" fill="url(#pore)" stroke="#cdcdcd" stroke-width="0.9"/><path d="M124.3,47.3 Q124.0,47.1 123.1,47.1 Q122.2,47.1 121.5,47.6 Q120.8,48.1 120.5,49.0 Q120.3,49.8 120.3,50.2 Q120.4,50.7 120.8,51.2 Q121.2,51.8 123.2,50.3 Q125.2,48.9 124.9,48.2 Q124.6,47.4 124.3,47.3Z" fill="url(#pore2)" stroke="#cdcdcd" stroke-width="0.9"/><path d="M126.9,30.6 Q126.5,30.0 125.9,29.8 Q125.3,29.6 124.7,29.8 Q124.1,30.0 123.9,30.3 Q123.6,30.5 123.5,30.8 Q123.3,31.1 123.3,31.7 Q123.3,32.3 123.7,32.8 Q124.1,33.4 124.7,33.6 Q125.3,33.8 125.6,33.7 Q125.9,33.7 126.4,33.3 Q127.0,32.9 127.1,32.6 Q127.3,32.3 127.3,31.7 Q127.3,31.1 126.9,30.6Z" fill="url(#pore2)" stroke="#cdcdcd" stroke-width="0.9"/><path d="M128.8,36.1 Q128.2,35.9 127.6,36.1 Q127.0,36.3 126.8,36.6 Q126.5,36.8 126.3,37.4 Q126.1,38.0 126.2,38.3 Q126.2,38.6 126.6,39.1 Q127.0,39.7 127.6,39.9 Q128.2,40.1 128.8,39.9 Q129.4,39.7 129.8,39.1 Q130.2,38.6 130.2,38.3 Q130.3,38.0 130.1,37.5 Q129.9,36.9 129.6,36.6 Q129.3,36.3 128.8,36.1Z" fill="url(#pore2)" stroke="#cdcdcd" stroke-width="0.9"/><path d="M132.8,33.8 Q132.5,33.5 131.9,33.4 Q131.3,33.3 130.9,33.5 Q130.6,33.8 130.5,34.4 Q130.4,35.0 130.6,35.4 Q130.9,35.7 131.5,35.8 Q132.1,35.9 132.5,35.7 Q132.8,35.4 132.9,34.8 Q133.0,34.2 132.8,33.8Z" fill="url(#pore2)" stroke="#cdcdcd" stroke-width="0.9"/><path d="M136.5,39.9 Q136.2,39.4 135.6,39.3 Q135.1,39.1 134.8,39.1 Q134.5,39.2 134.1,39.5 Q133.6,39.8 133.5,40.4 Q133.3,40.9 133.3,41.2 Q133.4,41.5 133.7,41.9 Q134.0,42.4 134.6,42.5 Q135.1,42.7 135.4,42.7 Q135.7,42.6 136.1,42.3 Q136.6,42.0 136.7,41.4 Q136.9,40.9 136.9,40.6 Q136.8,40.3 136.5,39.9Z" fill="url(#pore2)" stroke="#cdcdcd" stroke-width="0.9"/><path d="M124.7,39.7 Q123.9,39.7 123.3,40.1 Q122.7,40.6 122.5,40.9 Q122.4,41.2 122.4,42.0 Q122.4,42.8 122.5,43.1 Q122.7,43.4 123.3,43.9 Q123.9,44.3 124.7,44.3 Q125.5,44.3 126.1,43.9 Q126.7,43.4 126.9,43.1 Q127.0,42.8 127.0,42.0 Q127.0,41.2 126.2,40.5 Q125.4,39.7 124.7,39.7Z" fill="url(#pore2)" stroke="#cdcdcd" stroke-width="0.9"/><path d="M129.2,46.0 Q128.8,45.8 128.2,45.8 Q127.6,45.8 127.1,46.2 Q126.5,46.6 126.4,46.9 Q126.2,47.2 126.2,47.8 Q126.2,48.4 126.6,48.9 Q127.0,49.5 127.3,49.6 Q127.6,49.8 128.2,49.8 Q128.8,49.8 129.2,49.6 Q129.5,49.4 129.5,47.8 Q129.5,46.2 129.2,46.0Z" fill="url(#pore2)" stroke="#cdcdcd" stroke-width="0.9"/><path d="M130.8,46.5 Q130.4,46.8 130.4,47.8 Q130.4,48.8 130.6,49.0 Q130.7,49.1 131.0,49.3 Q131.2,49.4 131.7,49.4 Q132.2,49.4 132.6,49.1 Q133.0,48.8 133.2,48.3 Q133.4,47.8 133.3,47.5 Q133.3,47.3 133.0,46.9 Q132.7,46.5 132.2,46.3 Q131.7,46.1 131.4,46.2 Q131.2,46.2 130.8,46.5Z" fill="url(#pore2)" stroke="#cdcdcd" stroke-width="0.9"/><path d="M141.3,43.8 Q140.9,43.2 140.3,43.0 Q139.7,42.8 139.4,42.9 Q139.1,42.9 138.6,43.3 Q138.0,43.7 137.9,44.0 Q137.7,44.3 137.7,44.9 Q137.7,45.5 138.1,46.0 Q138.5,46.6 139.1,46.8 Q139.7,47.0 140.0,46.9 Q140.3,46.9 140.8,46.5 Q141.4,46.1 141.5,45.8 Q141.7,45.5 141.7,44.9 Q141.7,44.3 141.3,43.8Z" fill="url(#pore2)" stroke="#cdcdcd" stroke-width="0.9"/><path d="M139.0,48.5 Q138.6,47.9 138.0,47.7 Q137.4,47.5 137.1,47.6 Q136.8,47.6 136.3,48.0 Q135.7,48.4 135.6,48.7 Q135.4,49.0 135.4,49.6 Q135.4,50.2 135.8,50.7 Q136.2,51.3 136.8,51.5 Q137.4,51.7 137.7,51.6 Q138.0,51.6 138.5,51.2 Q139.1,50.8 139.2,50.5 Q139.4,50.2 139.4,49.6 Q139.4,49.0 139.0,48.5Z" fill="url(#pore2)" stroke="#cdcdcd" stroke-width="0.9"/><path d="M147.1,48.0 Q146.9,47.7 146.2,47.5 Q145.5,47.3 145.1,47.3 Q144.8,47.4 144.2,47.8 Q143.6,48.2 143.4,48.9 Q143.2,49.6 143.4,50.3 Q143.6,51.0 143.9,51.2 Q144.1,51.5 144.8,51.7 Q145.5,51.9 145.9,51.9 Q146.2,51.8 146.8,51.4 Q147.4,51.0 147.6,50.3 Q147.8,49.6 147.6,48.9 Q147.4,48.2 147.1,48.0Z" fill="url(#pore2)" stroke="#cdcdcd" stroke-width="0.9"/><path d="M127.0,51.5 Q127.0,51.2 126.3,50.4 Q125.7,49.6 123.7,51.1 Q121.7,52.5 122.1,53.1 Q122.6,53.6 123.6,53.9 Q124.5,54.1 124.8,54.0 Q125.1,54.0 125.4,53.8 Q125.8,53.6 126.4,52.8 Q126.9,51.9 127.0,51.5Z" fill="url(#pore2)" stroke="#cdcdcd" stroke-width="0.9"/><path d="M126.6,54.8 Q126.6,55.6 126.8,56.0 Q127.0,56.4 127.7,56.9 Q128.4,57.4 129.3,57.4 Q130.2,57.4 130.9,56.9 Q131.6,56.4 131.8,56.0 Q132.0,55.6 132.0,54.7 Q132.0,53.8 131.8,53.4 Q131.6,53.0 130.9,52.5 Q130.2,52.0 129.3,52.0 Q128.4,52.0 128.1,52.2 Q127.7,52.4 127.1,53.2 Q126.6,54.1 126.6,54.8Z" fill="url(#pore2)" stroke="#cdcdcd" stroke-width="0.9"/><path d="M140.1,55.9 Q139.8,55.5 137.3,55.1 Q134.8,54.7 133.3,56.8 Q131.7,58.9 132.6,61.7 Q133.4,64.6 134.2,64.8 Q134.9,65.0 135.1,64.2 Q135.2,63.3 135.7,63.0 Q136.1,62.7 138.5,62.2 Q140.9,61.6 140.7,58.9 Q140.4,56.3 140.1,55.9Z" fill="url(#pore)" stroke="#cdcdcd" stroke-width="0.9"/><path d="M142.6,56.2 Q142.3,56.8 142.2,57.5 Q142.1,58.2 142.2,58.9 Q142.3,59.6 142.6,60.2 Q142.9,60.9 143.1,61.0 Q143.2,61.1 143.7,61.0 Q144.3,60.9 144.8,60.9 Q145.3,61.0 145.7,61.5 Q146.1,61.9 146.3,62.3 Q146.4,62.7 147.2,62.6 Q148.0,62.5 148.6,62.2 Q149.3,61.9 149.8,61.4 Q150.3,60.9 150.6,60.2 Q150.9,59.6 151.0,58.9 Q151.1,58.2 151.0,57.5 Q150.9,56.8 150.6,56.2 Q150.3,55.5 149.8,55.0 Q149.3,54.5 148.8,54.3 Q148.3,54.1 146.1,54.3 Q143.8,54.6 143.4,55.1 Q142.9,55.5 142.6,56.2Z" fill="url(#pore)" stroke="#cdcdcd" stroke-width="0.9"/><path d="M128.0,59.3 Q127.6,59.3 126.9,59.5 Q126.2,59.7 125.7,60.3 Q125.3,60.9 125.3,61.7 Q125.3,62.5 125.7,63.1 Q126.2,63.7 127.3,61.5 Q128.4,59.4 128.0,59.3Z" fill="url(#pore2)" stroke="#cdcdcd" stroke-width="0.9"/><path d="M123.4,59.1 Q123.7,59.6 124.2,59.2 Q124.8,58.7 125.0,58.4 Q125.1,58.1 125.1,57.3 Q125.1,56.5 125.0,56.2 Q124.8,55.9 124.2,55.4 Q123.6,55.0 122.8,55.0 Q122.0,55.0 121.4,55.4 Q120.8,55.9 120.6,56.2 Q120.5,56.5 120.4,57.0 Q120.4,57.5 121.2,57.7 Q122.1,57.8 122.6,58.2 Q123.1,58.6 123.4,59.1Z" fill="url(#pore2)" stroke="#cdcdcd" stroke-width="0.9"/><path d="M127.4,64.2 Q127.8,64.2 128.5,64.0 Q129.2,63.8 129.7,63.2 Q130.1,62.6 130.1,61.8 Q130.1,61.0 129.7,60.4 Q129.2,59.8 128.1,62.0 Q127.0,64.1 127.4,64.2Z" fill="url(#pore2)" stroke="#cdcdcd" stroke-width="0.9"/><path d="M152.8,70.3 Q153.2,70.9 153.8,70.7 Q154.4,70.5 154.7,70.2 Q155.0,69.9 155.2,69.2 Q155.4,68.5 155.4,68.1 Q155.3,67.7 154.9,67.1 Q154.4,66.5 153.7,66.3 Q153.0,66.1 152.3,66.3 Q151.6,66.5 151.1,67.1 Q150.7,67.7 150.6,68.1 Q150.6,68.5 150.7,69.0 Q150.8,69.4 151.1,69.4 Q151.5,69.4 152.0,69.5 Q152.4,69.6 152.8,70.3Z" fill="url(#pore2)" stroke="#cdcdcd" stroke-width="0.9"/><path d="M158.3,73.0 Q158.0,72.5 157.4,72.4 Q156.9,72.2 156.4,72.4 Q155.8,72.5 155.6,72.7 Q155.4,72.9 155.3,73.5 Q155.1,74.0 155.1,74.3 Q155.2,74.6 155.5,75.0 Q155.8,75.5 156.4,75.6 Q156.9,75.8 157.4,75.6 Q158.0,75.5 158.2,75.3 Q158.4,75.1 158.5,74.5 Q158.7,74.0 158.7,73.7 Q158.6,73.4 158.3,73.0Z" fill="url(#pore2)" stroke="#cdcdcd" stroke-width="0.9"/><path d="M164.2,73.1 Q163.9,72.8 163.2,72.6 Q162.5,72.5 162.1,72.8 Q161.8,73.1 161.6,73.8 Q161.5,74.5 161.8,74.9 Q162.1,75.2 162.8,75.4 Q163.5,75.5 163.9,75.2 Q164.2,74.9 164.4,74.2 Q164.5,73.5 164.2,73.1Z" fill="url(#pore2)" stroke="#cdcdcd" stroke-width="0.9"/><path d="M129.7,81.6 Q129.8,82.7 130.2,83.5 Q130.7,84.4 131.4,85.0 Q132.0,85.7 132.4,85.9 Q132.8,86.1 135.3,84.9 Q137.8,83.6 139.6,83.0 Q141.4,82.4 141.6,81.6 Q141.7,80.8 141.5,79.9 Q141.4,78.9 141.0,78.1 Q140.5,77.2 139.8,76.6 Q139.2,75.9 138.3,75.4 Q137.5,75.0 136.4,74.9 Q135.4,74.7 135.5,76.1 Q135.7,77.4 135.5,78.0 Q135.3,78.6 134.9,78.9 Q134.5,79.2 132.0,79.9 Q129.5,80.6 129.7,81.6Z" fill="url(#pore)" stroke="#cdcdcd" stroke-width="0.9"/></g>
</g>
<rect x="5" y="128" width="178" height="9" fill="#000"/>
<rect x="6" y="129.2" width="7" height="6" fill="#2a2ae8"/>
<rect x="6.8" y="131" width="5.4" height="1.6" fill="#9a9af0"/>
<text x="15.5" y="131.3" font-size="3" fill="#ddd">1 μm</text>
<rect x="15" y="132.6" width="14" height="0.9" fill="#1faa3a"/>
<text x="42.5" y="133.3" font-size="3.1" fill="#cfcfcf">Mag =  1.50 K X</text>
<text x="67.5" y="133.3" font-size="3.1" fill="#cfcfcf">WD =  6.7 mm</text>
<text x="91.5" y="133.3" font-size="3.1" fill="#cfcfcf">EHT =  3.00 kV</text>
<text x="116" y="133.3" font-size="3.1" fill="#cfcfcf">Signal A = SE2</text>
<text x="141.5" y="133.3" font-size="3.1" fill="#cfcfcf">Date :13 Oct 2022</text>
<text x="8.4" y="15.4" font-size="9" font-weight="bold" fill="#fff">(a)</text>
<g clip-path="url(#cpb)" style="isolation:isolate">
<g filter="url(#blur3)"><rect x="180" y="0" width="190" height="135" fill="#6c6c6c"/><polygon points="180.0,12.0 232.0,14.0 236.0,40.0 226.0,62.0 180.0,62.0" fill="#7a7a7a"/><polygon points="180.0,0.0 245.0,0.0 250.0,12.0 240.0,16.0 200.0,11.0 180.0,11.0" fill="#949494"/><ellipse cx="215.0" cy="35.0" rx="16.0" ry="6.0" fill="#858585" transform="rotate(30 215.0 35.0)"/><ellipse cx="205.0" cy="56.0" rx="13.0" ry="5.0" fill="#7e7e7e" transform="rotate(35 205.0 56.0)"/><ellipse cx="228.0" cy="30.0" rx="10.0" ry="4.0" fill="#808080" transform="rotate(25 228.0 30.0)"/><ellipse cx="200.0" cy="27.0" rx="3.0" ry="6.0" fill="#4c4c4c"/><ellipse cx="192.0" cy="45.0" rx="5.0" ry="12.0" fill="#5e5e5e"/><polygon points="180.0,62.0 230.0,62.0 240.0,95.0 230.0,135.0 180.0,135.0" fill="#646464"/><polygon points="215.0,95.0 250.0,92.0 262.0,110.0 262.0,135.0 215.0,135.0" fill="#464646"/><polygon points="228.0,40.0 246.0,40.0 246.0,66.0 232.0,60.0" fill="#393939"/><polygon points="232.0,42.0 250.0,36.0 262.0,50.0 272.0,75.0 286.0,100.0 292.0,128.0 256.0,128.0 244.0,108.0 232.0,84.0 228.0,60.0" fill="#3c3c3c"/><polygon points="238.0,60.0 262.0,60.0 262.0,82.0 244.0,80.0" fill="#2f2f2f"/><polygon points="300.0,0.0 370.0,0.0 370.0,135.0 322.0,135.0 310.0,60.0 300.0,30.0" fill="#7a7a7a"/><ellipse cx="303.0" cy="10.0" rx="4.0" ry="4.0" fill="#3e3e3e"/><ellipse cx="342.0" cy="8.0" rx="3.0" ry="2.5" fill="#3e3e3e"/><ellipse cx="344.0" cy="18.0" rx="4.0" ry="4.5" fill="#3a3a3a"/><ellipse cx="308.0" cy="21.0" rx="6.0" ry="4.0" fill="#555555"/><ellipse cx="350.0" cy="40.0" rx="12.0" ry="16.0" fill="#8a8a8a"/><polygon points="318.0,60.0 336.0,60.0 338.0,135.0 324.0,135.0" fill="#5a5a5a"/><polygon points="350.0,62.0 370.0,62.0 370.0,135.0 352.0,135.0" fill="#838383"/><polygon points="335.0,62.0 370.0,62.0 370.0,76.0 338.0,76.0" fill="#8c8c8c"/></g>
<g filter="url(#blur05)"><path d="M258.0,88.0 C259.2,87.3 262.5,87.7 266.0,91.0 C269.5,94.3 277.2,104.7 279.0,108.0 C280.8,111.3 279.0,111.7 277.0,111.0 C275.0,110.3 270.0,106.7 267.0,104.0 C264.0,101.3 260.5,97.7 259.0,95.0 C257.5,92.3 256.8,88.7 258.0,88.0Z" fill="#8a8a8a"/><path d="M251.0,81.0 C252.7,80.7 260.2,82.0 262.0,83.0 C263.8,84.0 263.7,86.7 262.0,87.0 C260.3,87.3 253.8,86.0 252.0,85.0 C250.2,84.0 249.3,81.3 251.0,81.0Z" fill="#8e8e8e"/><path d="M244.0,112.0 C246.0,110.5 258.3,107.7 262.0,108.0 C265.7,108.3 268.0,112.5 266.0,114.0 C264.0,115.5 253.7,117.3 250.0,117.0 C246.3,116.7 242.0,113.5 244.0,112.0Z" fill="#8a8a8a"/></g>
<rect x="185" y="4" width="180" height="124" filter="url(#texB)" style="mix-blend-mode:overlay" opacity="0.65"/>
<g filter="url(#blur05)"><polyline points="190.0,7.0 215.0,9.0 240.0,13.0 250.0,18.0" fill="none" stroke="#a8a8a8" stroke-width="2" stroke-linejoin="round" stroke-linecap="round"/><polyline points="200.0,20.0 215.0,30.0 228.0,42.0 236.0,55.0" fill="none" stroke="#8e8e8e" stroke-width="1.2" stroke-linejoin="round" stroke-linecap="round"/><polyline points="229.8,52.4 232.0,58.0 238.0,62.0" fill="none" stroke="#c8c8c8" stroke-width="1.6" stroke-linejoin="round" stroke-linecap="round"/><polyline points="350.0,62.0 356.0,80.0 360.0,95.0 364.0,105.0" fill="none" stroke="#a6a6a6" stroke-width="1.5" stroke-linejoin="round" stroke-linecap="round"/></g>
<g filter="url(#blur1)"><polygon points="248.0,4.0 284.0,4.0 292.0,20.0 299.0,42.0 306.0,62.0 313.0,82.0 319.0,102.0 326.0,128.0 292.0,128.0 290.0,112.0 284.0,96.0 276.0,82.0 264.0,62.0 256.0,41.0 249.0,26.0" fill="#7e7e7e"/></g>
<g filter="url(#blur1)"><ellipse cx="242.0" cy="21.0" rx="11.0" ry="3.5" fill="#262626" transform="rotate(25 242.0 21.0)"/><ellipse cx="243.0" cy="29.5" rx="8.0" ry="3.0" fill="#262626" transform="rotate(25 243.0 29.5)"/><ellipse cx="234.0" cy="50.0" rx="5.0" ry="8.0" fill="#262626" transform="rotate(10 234.0 50.0)"/><ellipse cx="247.0" cy="53.0" rx="7.0" ry="8.0" fill="#262626"/><ellipse cx="258.0" cy="62.0" rx="8.0" ry="6.0" fill="#262626" transform="rotate(20 258.0 62.0)"/><ellipse cx="251.0" cy="67.0" rx="6.0" ry="4.0" fill="#262626"/><ellipse cx="268.0" cy="80.0" rx="7.0" ry="5.0" fill="#262626" transform="rotate(30 268.0 80.0)"/><ellipse cx="266.0" cy="92.0" rx="6.0" ry="5.0" fill="#262626"/><ellipse cx="276.0" cy="100.0" rx="5.0" ry="6.0" fill="#262626"/></g>
<g filter="url(#blur05)"><polyline points="226.0,38.0 236.0,39.0 246.0,44.0 252.0,50.0" fill="none" stroke="#a0a0a0" stroke-width="1.3" stroke-linejoin="round" stroke-linecap="round"/><polyline points="230.0,15.0 240.0,17.0 250.0,22.0" fill="none" stroke="#9a9a9a" stroke-width="1.1" stroke-linejoin="round" stroke-linecap="round"/><polyline points="240.0,58.0 248.0,62.0 258.0,70.0 262.0,75.0" fill="none" stroke="#9a9a9a" stroke-width="1.2" stroke-linejoin="round" stroke-linecap="round"/></g>
<g filter="url(#blur05)"><path d="M260.9,12.2 Q261.4,12.7 264.9,12.4 Q268.4,12.0 268.8,11.3 Q269.2,10.6 269.3,9.9 Q269.4,9.1 269.3,8.3 Q269.2,7.6 268.8,6.9 Q268.4,6.2 267.9,5.6 Q267.3,5.1 266.8,4.8 Q266.3,4.5 264.4,4.5 Q262.5,4.5 262.1,4.7 Q261.6,5.0 261.1,8.4 Q260.5,11.8 260.9,12.2Z" fill="url(#pore)" stroke="#bdbdbd" stroke-width="1"/><path d="M258.8,7.8 Q258.8,7.1 258.4,6.5 Q258.0,6.0 257.4,5.8 Q256.7,5.6 256.0,5.8 Q255.4,6.0 255.1,6.2 Q254.9,6.5 254.7,7.1 Q254.5,7.8 254.7,8.5 Q254.9,9.1 255.1,9.4 Q255.4,9.6 256.0,9.8 Q256.7,10.0 257.4,9.8 Q258.0,9.6 258.4,9.1 Q258.8,8.5 258.8,7.8Z" fill="#262626" stroke="#bdbdbd" stroke-width="1"/><path d="M259.4,19.5 Q260.7,18.0 260.7,15.7 Q260.7,13.4 260.2,13.0 Q259.8,12.5 256.9,12.8 Q254.1,13.0 253.7,13.4 Q253.4,13.8 253.0,14.5 Q252.6,15.2 252.5,15.9 Q252.4,16.7 252.7,17.8 Q252.9,18.8 255.5,19.9 Q258.1,20.9 259.4,19.5Z" fill="url(#pore)" stroke="#bdbdbd" stroke-width="1"/><path d="M266.2,16.5 Q266.1,15.9 265.6,15.6 Q265.0,15.3 264.6,15.5 Q264.2,15.6 263.9,15.9 Q263.7,16.3 263.8,16.9 Q263.9,17.5 264.2,17.8 Q264.6,18.0 265.2,17.9 Q265.8,17.8 266.1,17.5 Q266.3,17.1 266.2,16.5Z" fill="#262626" stroke="#bdbdbd" stroke-width="1"/><path d="M277.9,16.8 Q276.6,14.5 273.9,14.0 Q271.3,13.5 270.2,17.2 Q269.1,21.0 269.3,21.7 Q269.5,22.5 271.7,23.9 Q274.0,25.3 274.3,25.1 Q274.5,25.0 276.9,22.0 Q279.3,19.1 277.9,16.8Z" fill="url(#pore)" stroke="#bdbdbd" stroke-width="1"/><path d="M260.5,19.7 Q259.7,20.7 259.6,21.3 Q259.5,21.8 259.6,22.3 Q259.7,22.9 260.0,23.4 Q260.2,23.9 260.6,24.3 Q261.0,24.7 261.5,24.9 Q262.0,25.2 262.6,25.3 Q263.1,25.4 263.6,25.3 Q264.2,25.2 264.7,24.9 Q265.2,24.7 265.6,24.3 Q266.0,23.9 266.2,23.4 Q266.5,22.9 266.6,22.3 Q266.7,21.8 266.6,21.2 Q266.5,20.7 263.9,19.7 Q261.3,18.8 260.5,19.7Z" fill="#262626" stroke="#bdbdbd" stroke-width="1"/><path d="M254.1,20.4 Q250.4,18.9 249.8,19.4 Q249.2,20.0 249.4,22.9 Q249.5,25.9 250.2,27.3 Q250.8,28.7 254.8,27.0 Q258.8,25.3 258.3,23.6 Q257.8,21.9 254.1,20.4Z" fill="url(#pore)" stroke="#bdbdbd" stroke-width="1"/><path d="M273.1,29.1 Q273.5,26.1 271.3,24.8 Q269.1,23.4 265.9,25.7 Q262.8,28.0 263.0,29.8 Q263.2,31.6 264.9,33.1 Q266.6,34.6 267.7,34.7 Q268.7,34.7 270.8,33.4 Q272.8,32.0 273.1,29.1Z" fill="url(#pore)" stroke="#bdbdbd" stroke-width="1"/><path d="M255.6,27.7 Q252.7,29.0 252.7,29.5 Q252.6,30.1 252.7,30.7 Q252.8,31.4 253.1,32.0 Q253.4,32.5 253.8,33.0 Q254.3,33.4 254.8,33.7 Q255.4,34.0 256.1,34.1 Q256.9,34.2 258.4,33.5 Q259.9,32.7 260.2,32.0 Q260.6,31.4 260.7,30.7 Q260.8,30.1 260.7,29.5 Q260.6,28.8 260.3,28.2 Q260.0,27.7 259.3,27.1 Q258.5,26.4 255.6,27.7Z" fill="url(#pore)" stroke="#bdbdbd" stroke-width="1"/><path d="M264.9,34.4 Q262.6,32.4 258.6,34.5 Q254.5,36.5 255.6,39.0 Q256.7,41.4 261.8,40.2 Q267.0,39.0 267.0,37.6 Q267.1,36.3 264.9,34.4Z" fill="url(#pore)" stroke="#bdbdbd" stroke-width="1"/><path d="M273.4,41.7 Q275.4,42.4 276.2,42.1 Q276.9,41.7 277.4,41.3 Q277.8,40.8 278.1,40.3 Q278.4,39.7 278.5,39.0 Q278.6,38.4 278.5,37.8 Q278.4,37.1 278.1,36.5 Q277.8,36.0 277.4,35.5 Q276.9,35.1 276.4,34.8 Q275.8,34.5 275.1,34.4 Q274.5,34.3 273.9,34.4 Q273.2,34.5 272.6,34.8 Q272.1,35.1 271.6,35.5 Q271.2,36.0 270.9,36.5 Q270.6,37.1 270.5,37.8 Q270.4,38.4 270.5,39.0 Q270.6,39.7 271.0,40.4 Q271.4,41.1 273.4,41.7Z" fill="url(#pore)" stroke="#bdbdbd" stroke-width="1"/><path d="M273.1,42.7 Q268.3,41.1 267.7,44.0 Q267.1,47.0 268.0,49.2 Q268.9,51.4 270.2,52.0 Q271.4,52.7 272.0,52.7 Q272.5,52.7 275.0,51.3 Q277.5,49.9 277.7,49.5 Q277.8,49.2 277.9,46.7 Q277.9,44.2 273.1,42.7Z" fill="url(#pore)" stroke="#bdbdbd" stroke-width="1"/><path d="M289.3,49.8 Q289.4,49.7 289.9,47.6 Q290.3,45.4 289.0,43.4 Q287.7,41.4 285.2,40.9 Q282.7,40.4 281.9,40.7 Q281.2,41.1 280.9,41.4 Q280.6,41.7 280.0,42.5 Q279.4,43.3 279.1,44.1 Q278.9,44.9 278.9,46.4 Q279.0,47.9 279.6,48.9 Q280.2,49.9 284.7,50.0 Q289.2,50.0 289.3,49.8Z" fill="url(#pore)" stroke="#bdbdbd" stroke-width="1"/><path d="M295.1,52.5 Q297.7,53.3 299.2,51.9 Q300.7,50.6 300.8,50.3 Q301.0,50.0 301.0,49.7 Q301.1,49.4 300.2,47.1 Q299.4,44.7 298.8,44.4 Q298.2,44.0 295.2,44.7 Q292.2,45.5 291.8,46.2 Q291.4,47.0 291.3,47.7 Q291.2,48.5 291.3,49.3 Q291.4,50.0 291.8,50.7 Q292.2,51.4 292.3,51.6 Q292.5,51.8 295.1,52.5Z" fill="url(#pore)" stroke="#bdbdbd" stroke-width="1"/><path d="M284.7,51.0 Q281.7,50.9 281.1,51.6 Q280.5,52.3 282.0,56.0 Q283.5,59.7 284.1,59.8 Q284.7,59.9 285.3,59.8 Q285.9,59.7 287.0,58.8 Q288.2,57.8 288.8,55.6 Q289.5,53.4 289.1,52.7 Q288.7,52.0 288.2,51.5 Q287.7,51.0 284.7,51.0Z" fill="url(#pore)" stroke="#bdbdbd" stroke-width="1"/><path d="M281.1,56.4 Q280.0,53.7 279.2,53.5 Q278.4,53.4 277.8,53.5 Q277.1,53.6 276.5,53.9 Q276.0,54.2 275.5,54.6 Q275.1,55.1 274.8,55.6 Q274.5,56.2 274.4,56.9 Q274.3,57.5 274.4,58.1 Q274.5,58.8 274.8,59.4 Q275.2,60.1 278.2,60.2 Q281.2,60.4 281.5,60.2 Q281.7,59.9 282.0,59.5 Q282.2,59.1 281.1,56.4Z" fill="url(#pore)" stroke="#bdbdbd" stroke-width="1"/><path d="M294.5,64.6 Q296.0,63.2 296.0,62.8 Q296.1,62.4 292.4,60.6 Q288.7,58.7 287.6,59.6 Q286.6,60.5 286.5,60.7 Q286.3,61.0 286.2,61.5 Q286.2,62.1 289.6,64.0 Q293.0,65.9 294.5,64.6Z" fill="url(#pore)" stroke="#bdbdbd" stroke-width="1"/><path d="M292.8,59.6 Q293.6,59.9 294.3,59.7 Q295.0,59.4 295.4,58.8 Q295.9,58.2 295.9,57.9 Q296.0,57.5 295.9,57.1 Q295.9,56.8 295.4,56.2 Q295.0,55.6 294.3,55.3 Q293.6,55.1 292.9,55.3 Q292.2,55.6 291.8,56.2 Q291.3,56.8 291.3,57.1 Q291.2,57.5 291.3,57.9 Q291.3,58.2 291.7,58.8 Q292.0,59.3 292.8,59.6Z" fill="#262626" stroke="#bdbdbd" stroke-width="1"/><path d="M276.5,71.6 Q277.0,70.2 274.1,66.5 Q271.3,62.7 268.9,63.9 Q266.5,65.2 268.5,68.5 Q270.5,71.9 273.2,72.5 Q276.0,73.0 276.5,71.6Z" fill="url(#pore)" stroke="#bdbdbd" stroke-width="1"/><path d="M288.6,64.6 Q284.7,62.5 284.0,64.8 Q283.4,67.1 286.3,69.8 Q289.2,72.5 290.2,72.4 Q291.2,72.3 291.9,69.6 Q292.5,66.8 288.6,64.6Z" fill="url(#pore)" stroke="#bdbdbd" stroke-width="1"/><path d="M292.9,69.7 Q292.2,72.6 293.6,73.6 Q295.0,74.6 296.0,74.8 Q296.9,74.9 297.8,74.8 Q298.8,74.6 299.8,74.0 Q300.8,73.4 299.9,68.3 Q299.0,63.3 298.3,63.1 Q297.7,63.0 295.6,64.9 Q293.5,66.8 292.9,69.7Z" fill="url(#pore)" stroke="#bdbdbd" stroke-width="1"/><path d="M300.9,68.2 Q301.6,72.0 302.5,72.3 Q303.4,72.5 305.5,70.2 Q307.5,67.8 306.7,65.4 Q305.8,63.0 305.6,62.9 Q305.4,62.8 304.7,62.7 Q303.9,62.6 303.1,62.7 Q302.4,62.8 301.7,63.2 Q301.0,63.6 300.6,63.9 Q300.2,64.3 300.9,68.2Z" fill="url(#pore)" stroke="#bdbdbd" stroke-width="1"/><path d="M285.9,77.0 Q282.6,80.5 283.4,82.0 Q284.3,83.5 289.3,84.1 Q294.3,84.7 295.1,80.7 Q295.9,76.7 293.7,75.0 Q291.5,73.4 290.4,73.5 Q289.3,73.5 285.9,77.0Z" fill="url(#pore)" stroke="#bdbdbd" stroke-width="1"/><path d="M297.2,77.0 Q296.7,77.4 296.1,80.5 Q295.5,83.5 296.0,84.5 Q296.5,85.6 297.3,86.3 Q298.0,87.1 299.0,87.5 Q299.9,88.0 301.0,88.2 Q302.0,88.3 303.0,88.2 Q304.1,88.0 304.6,87.7 Q305.2,87.5 305.9,82.8 Q306.5,78.2 304.4,76.6 Q302.2,75.0 301.9,75.0 Q301.6,74.9 299.6,75.7 Q297.7,76.5 297.2,77.0Z" fill="url(#pore)" stroke="#bdbdbd" stroke-width="1"/><path d="M312.2,81.8 Q310.9,77.9 310.1,78.0 Q309.4,78.1 308.7,78.5 Q308.0,78.9 307.7,79.1 Q307.4,79.4 306.9,82.3 Q306.5,85.2 306.7,85.5 Q306.9,85.8 307.4,86.4 Q308.0,86.9 308.7,87.3 Q309.4,87.7 310.0,87.8 Q310.6,87.9 312.1,86.8 Q313.6,85.7 312.2,81.8Z" fill="url(#pore)" stroke="#bdbdbd" stroke-width="1"/><path d="M302.5,95.8 Q301.2,90.7 299.2,90.2 Q297.2,89.8 294.4,93.3 Q291.5,96.9 293.2,99.5 Q294.8,102.1 297.6,102.7 Q300.4,103.3 302.1,102.1 Q303.8,101.0 302.5,95.8Z" fill="url(#pore)" stroke="#bdbdbd" stroke-width="1"/><path d="M310.7,97.6 Q312.3,93.8 310.8,91.8 Q309.3,89.7 308.9,89.7 Q308.4,89.6 307.5,89.7 Q306.5,89.9 305.7,90.3 Q304.9,90.7 304.2,91.4 Q303.5,92.1 303.2,92.7 Q302.9,93.3 303.8,96.8 Q304.7,100.3 305.4,100.7 Q306.2,101.1 306.7,101.3 Q307.3,101.4 307.8,101.5 Q308.4,101.6 308.8,101.5 Q309.2,101.4 310.7,97.6Z" fill="url(#pore)" stroke="#bdbdbd" stroke-width="1"/><path d="M311.8,97.5 Q310.5,100.8 310.8,101.2 Q311.1,101.6 313.1,102.0 Q315.1,102.4 316.5,101.2 Q317.9,100.0 317.1,97.4 Q316.3,94.8 314.7,94.5 Q313.2,94.3 311.8,97.5Z" fill="url(#pore)" stroke="#bdbdbd" stroke-width="1"/><path d="M313.9,103.3 Q312.8,103.0 312.2,103.1 Q311.5,103.2 310.9,103.5 Q310.4,103.8 309.8,104.5 Q309.1,105.3 309.4,107.5 Q309.7,109.7 310.0,110.1 Q310.4,110.4 310.9,110.7 Q311.5,111.0 312.2,111.1 Q312.8,111.2 313.4,111.1 Q314.1,111.0 315.3,110.0 Q316.5,108.9 316.6,108.4 Q316.8,107.8 315.9,105.7 Q315.0,103.7 313.9,103.3Z" fill="url(#pore)" stroke="#bdbdbd" stroke-width="1"/><path d="M293.1,115.7 Q292.8,116.5 295.1,120.6 Q297.3,124.7 298.4,124.9 Q299.5,125.1 300.7,124.9 Q301.9,124.7 303.0,124.1 Q304.1,123.5 304.6,119.2 Q305.0,114.9 302.7,113.5 Q300.5,112.2 296.9,113.5 Q293.4,114.8 293.1,115.7Z" fill="url(#pore)" stroke="#bdbdbd" stroke-width="1"/><path d="M305.6,118.5 Q305.3,122.1 306.1,123.0 Q306.9,124.0 307.9,124.4 Q308.8,124.9 309.9,125.1 Q310.9,125.2 311.9,125.1 Q313.0,124.9 313.9,124.4 Q314.9,124.0 315.1,123.7 Q315.4,123.4 315.7,121.2 Q316.0,118.9 314.2,116.1 Q312.4,113.4 311.0,113.2 Q309.6,112.9 307.8,113.9 Q306.0,114.9 305.6,118.5Z" fill="url(#pore)" stroke="#bdbdbd" stroke-width="1"/><path d="M315.1,115.7 Q316.7,118.1 319.4,116.7 Q322.0,115.2 321.3,112.3 Q320.5,109.5 319.2,109.2 Q317.8,109.0 315.7,110.9 Q313.6,112.8 313.6,113.0 Q313.5,113.3 315.1,115.7Z" fill="url(#pore)" stroke="#bdbdbd" stroke-width="1"/><path d="M280.3,27.0 Q283.3,28.1 283.7,27.7 Q284.1,27.3 284.4,26.7 Q284.7,26.2 284.7,25.6 Q284.8,25.0 284.7,24.4 Q284.7,23.8 284.4,23.3 Q284.1,22.7 283.7,22.3 Q283.3,21.9 282.7,21.6 Q282.2,21.3 281.6,21.3 Q281.0,21.2 280.4,21.3 Q279.8,21.3 279.3,21.6 Q278.7,21.9 278.3,22.3 Q277.9,22.7 277.6,23.3 Q277.3,23.8 277.3,24.4 Q277.2,25.0 277.2,25.4 Q277.3,25.9 280.3,27.0Z" fill="#262626" stroke="#bdbdbd" stroke-width="1"/><path d="M288.3,32.0 Q286.6,31.2 285.7,31.6 Q284.7,31.9 284.3,32.3 Q283.9,32.7 283.6,33.3 Q283.3,33.8 283.3,34.4 Q283.2,35.0 283.3,35.6 Q283.3,36.2 283.6,36.7 Q283.9,37.3 284.3,37.7 Q284.7,38.1 285.3,38.4 Q285.8,38.7 286.4,38.7 Q287.0,38.8 287.6,38.7 Q288.2,38.7 288.7,38.4 Q289.3,38.1 289.7,37.6 Q290.2,37.0 290.4,36.6 Q290.7,36.2 290.7,35.6 Q290.8,35.0 290.7,34.4 Q290.7,33.8 290.4,33.3 Q290.1,32.7 288.3,32.0Z" fill="#262626" stroke="#bdbdbd" stroke-width="1"/><path d="M279.8,28.0 Q278.9,27.6 278.3,27.8 Q277.6,28.1 277.2,28.7 Q276.7,29.3 276.7,30.0 Q276.7,30.7 277.2,31.3 Q277.6,31.9 278.3,32.2 Q279.0,32.4 279.4,32.3 Q279.7,32.3 280.1,32.1 Q280.4,31.9 280.8,31.3 Q281.3,30.7 281.3,30.0 Q281.3,29.3 281.0,28.8 Q280.6,28.3 279.8,28.0Z" fill="#262626" stroke="#bdbdbd" stroke-width="1"/><path d="M279.4,6.3 Q279.1,5.7 278.7,5.3 Q278.3,4.9 277.9,4.7 Q277.5,4.5 276.0,4.5 Q274.5,4.5 274.1,4.7 Q273.7,4.9 273.3,5.3 Q272.9,5.7 272.6,6.3 Q272.3,6.8 272.3,7.4 Q272.2,8.0 272.3,8.6 Q272.3,9.2 272.6,9.7 Q272.9,10.3 273.3,10.7 Q273.7,11.1 274.3,11.4 Q274.8,11.7 275.4,11.7 Q276.0,11.8 276.6,11.7 Q277.2,11.7 277.7,11.4 Q278.3,11.1 278.7,10.7 Q279.1,10.3 279.4,9.7 Q279.7,9.2 279.7,8.6 Q279.8,8.0 279.7,7.4 Q279.7,6.8 279.4,6.3Z" fill="#262626" stroke="#bdbdbd" stroke-width="1"/><path d="M285.7,12.6 Q285.5,12.2 285.2,11.8 Q284.8,11.5 284.4,11.3 Q284.0,11.0 283.5,11.0 Q283.0,10.9 282.5,11.0 Q282.0,11.0 281.6,11.3 Q281.2,11.5 280.8,11.8 Q280.5,12.2 280.3,12.6 Q280.0,13.0 280.0,13.5 Q279.9,14.0 280.0,14.5 Q280.0,15.0 280.3,15.4 Q280.5,15.8 280.8,16.2 Q281.2,16.5 281.6,16.7 Q282.0,17.0 282.5,17.0 Q283.0,17.1 283.5,17.0 Q284.0,17.0 284.4,16.7 Q284.8,16.5 285.2,16.2 Q285.5,15.8 285.7,15.4 Q286.0,15.0 286.0,14.5 Q286.1,14.0 286.0,13.5 Q286.0,13.0 285.7,12.6Z" fill="#262626" stroke="#bdbdbd" stroke-width="1"/><path d="M292.7,26.6 Q292.5,26.2 292.2,25.8 Q291.8,25.5 291.4,25.3 Q291.0,25.0 290.5,25.0 Q290.0,24.9 289.5,25.0 Q289.0,25.0 288.6,25.3 Q288.2,25.5 287.8,25.8 Q287.5,26.2 287.3,26.6 Q287.0,27.0 287.0,27.5 Q286.9,28.0 287.0,28.5 Q287.0,29.0 287.3,29.4 Q287.5,29.8 287.8,30.2 Q288.2,30.5 288.6,30.7 Q289.0,31.0 289.5,31.0 Q290.0,31.1 290.5,31.0 Q291.0,31.0 291.4,30.7 Q291.8,30.5 292.2,30.2 Q292.5,29.8 292.7,29.4 Q293.0,29.0 293.0,28.5 Q293.1,28.0 293.0,27.5 Q293.0,27.0 292.7,26.6Z" fill="#262626" stroke="#bdbdbd" stroke-width="1"/><path d="M296.7,38.6 Q296.5,38.2 296.2,37.8 Q295.8,37.5 295.4,37.3 Q295.0,37.0 294.5,37.0 Q294.0,36.9 293.5,37.0 Q293.0,37.0 292.6,37.3 Q292.2,37.5 291.8,37.8 Q291.5,38.2 291.3,38.6 Q291.0,39.0 291.0,39.5 Q290.9,40.0 291.0,40.5 Q291.0,41.0 291.3,41.4 Q291.5,41.8 291.8,42.2 Q292.2,42.5 292.6,42.7 Q293.0,43.0 293.5,43.0 Q294.0,43.1 294.5,43.0 Q295.0,43.0 295.4,42.7 Q295.8,42.5 296.2,42.2 Q296.5,41.8 296.7,41.4 Q297.0,41.0 297.0,40.5 Q297.1,40.0 297.0,39.5 Q297.0,39.0 296.7,38.6Z" fill="#262626" stroke="#bdbdbd" stroke-width="1"/><path d="M303.3,55.9 Q302.1,52.3 301.4,52.6 Q300.7,52.9 300.3,53.3 Q299.9,53.7 299.6,54.3 Q299.3,54.8 299.3,55.4 Q299.2,56.0 299.3,56.6 Q299.3,57.2 299.6,57.7 Q299.9,58.3 300.3,58.7 Q300.7,59.1 301.3,59.4 Q301.8,59.7 302.4,59.7 Q303.0,59.8 303.6,59.7 Q304.2,59.7 304.4,59.6 Q304.6,59.5 303.3,55.9Z" fill="#262626" stroke="#bdbdbd" stroke-width="1"/><path d="M306.5,70.5 Q305.2,72.1 305.3,72.6 Q305.3,73.2 305.6,73.7 Q305.9,74.3 306.3,74.7 Q306.7,75.1 307.3,75.4 Q307.8,75.7 308.4,75.7 Q309.0,75.8 309.6,75.7 Q310.2,75.6 309.1,72.3 Q307.9,68.9 306.5,70.5Z" fill="#262626" stroke="#bdbdbd" stroke-width="1"/><path d="M315.2,93.6 Q316.0,93.7 315.0,90.2 Q313.9,86.8 313.4,87.3 Q312.9,87.7 312.6,88.3 Q312.3,88.8 312.3,89.4 Q312.2,90.0 312.3,90.6 Q312.3,91.2 312.6,91.7 Q312.9,92.3 313.3,92.7 Q313.7,93.1 314.1,93.3 Q314.4,93.4 315.2,93.6Z" fill="#262626" stroke="#bdbdbd" stroke-width="1"/><path d="M317.0,105.5 Q317.7,107.1 318.3,107.4 Q318.8,107.7 319.4,107.7 Q320.1,107.8 319.1,104.4 Q318.2,101.0 317.3,101.8 Q316.5,102.6 316.3,103.2 Q316.2,103.8 317.0,105.5Z" fill="#262626" stroke="#bdbdbd" stroke-width="1"/><path d="M320.5,117.2 Q318.7,118.2 318.4,119.1 Q318.2,120.0 318.3,120.6 Q318.3,121.2 318.6,121.7 Q318.9,122.3 319.3,122.7 Q319.7,123.1 320.3,123.4 Q320.8,123.7 321.4,123.7 Q322.0,123.8 322.6,123.7 Q323.2,123.7 323.7,123.4 Q324.2,123.2 323.2,119.7 Q322.3,116.2 320.5,117.2Z" fill="#262626" stroke="#bdbdbd" stroke-width="1"/><path d="M288.6,85.0 Q287.0,84.9 286.0,85.3 Q284.9,85.7 284.3,86.3 Q283.7,86.9 283.3,87.6 Q283.0,88.4 282.8,89.2 Q282.7,90.0 282.8,90.8 Q283.0,91.6 283.3,92.3 Q283.6,92.9 284.4,93.6 Q285.1,94.4 285.7,94.7 Q286.4,95.0 287.2,95.2 Q288.0,95.3 288.8,95.2 Q289.6,95.0 290.4,94.7 Q291.1,94.3 291.7,93.7 Q292.3,93.1 292.7,92.4 Q293.0,91.6 293.2,90.8 Q293.3,90.0 293.2,89.2 Q293.0,88.4 292.7,87.6 Q292.3,86.9 291.7,86.3 Q291.1,85.7 290.6,85.5 Q290.2,85.2 288.6,85.0Z" fill="url(#pore)" stroke="#bdbdbd" stroke-width="1"/><path d="M292.9,106.3 Q291.1,109.5 291.5,110.5 Q292.0,111.4 292.5,111.8 Q292.9,112.3 293.6,112.7 Q294.4,113.0 294.7,113.1 Q295.0,113.1 297.5,112.2 Q300.0,111.3 300.0,107.9 Q300.0,104.6 299.8,104.4 Q299.6,104.2 297.2,103.6 Q294.7,103.1 292.9,106.3Z" fill="url(#pore)" stroke="#bdbdbd" stroke-width="1"/><path d="M308.4,107.5 Q308.1,105.7 307.7,105.3 Q307.3,104.9 306.7,104.6 Q306.2,104.3 305.6,104.3 Q305.0,104.2 304.4,104.3 Q303.8,104.3 303.3,104.6 Q302.7,104.9 302.3,105.3 Q301.9,105.7 301.6,106.3 Q301.3,106.8 301.3,107.4 Q301.2,108.0 301.3,108.6 Q301.3,109.2 301.6,109.7 Q301.9,110.3 302.3,110.7 Q302.7,111.1 303.3,111.4 Q303.8,111.7 304.4,111.7 Q305.0,111.8 305.6,111.7 Q306.2,111.7 306.7,111.4 Q307.3,111.1 307.7,110.7 Q308.1,110.3 308.4,109.8 Q308.6,109.3 308.4,107.5Z" fill="#262626" stroke="#bdbdbd" stroke-width="1"/><path d="M286.7,99.3 Q286.0,99.7 287.6,104.1 Q289.2,108.6 289.8,108.7 Q290.3,108.9 292.1,105.7 Q293.9,102.5 293.0,101.2 Q292.2,99.8 291.4,99.4 Q290.6,99.0 289.8,98.8 Q289.0,98.7 288.2,98.8 Q287.4,99.0 286.7,99.3Z" fill="url(#pore)" stroke="#bdbdbd" stroke-width="1"/><path d="M264.3,53.3 Q266.8,52.0 267.1,51.0 Q267.3,50.1 266.8,48.8 Q266.3,47.5 262.6,47.5 Q259.0,47.5 260.4,51.0 Q261.7,54.6 264.3,53.3Z" fill="url(#pore)" stroke="#bdbdbd" stroke-width="1"/><path d="M265.6,63.2 Q266.0,63.3 266.8,63.2 Q267.6,63.0 268.4,62.7 Q269.1,62.3 269.7,61.7 Q270.3,61.1 270.7,60.4 Q271.0,59.6 271.2,58.8 Q271.3,58.0 271.2,57.2 Q271.0,56.4 270.7,55.6 Q270.3,54.9 269.7,54.3 Q269.1,53.7 268.2,53.3 Q267.3,52.9 264.7,54.2 Q262.1,55.5 263.3,58.7 Q264.5,61.8 264.9,62.5 Q265.3,63.2 265.6,63.2Z" fill="url(#pore)" stroke="#bdbdbd" stroke-width="1"/><path d="M272.9,75.8 Q274.5,78.6 274.8,78.1 Q275.0,77.6 275.2,76.8 Q275.3,76.0 275.0,74.9 Q274.8,73.8 273.0,73.4 Q271.2,73.1 272.9,75.8Z" fill="url(#pore)" stroke="#bdbdbd" stroke-width="1"/><path d="M276.5,80.8 Q275.9,80.9 276.2,81.3 Q276.4,81.8 278.7,85.6 Q280.9,89.5 281.5,88.6 Q282.0,87.6 282.2,86.8 Q282.3,86.0 282.2,85.2 Q282.0,84.4 281.7,83.6 Q281.3,82.9 280.7,82.3 Q280.1,81.7 279.4,81.3 Q278.6,81.0 277.8,80.8 Q277.0,80.7 276.5,80.8Z" fill="url(#pore)" stroke="#bdbdbd" stroke-width="1"/><path d="M290.7,113.4 Q290.9,115.0 291.1,114.0 Q291.3,113.0 291.2,112.4 Q291.1,111.8 290.6,110.9 Q290.1,109.9 289.9,109.8 Q289.7,109.8 290.1,110.8 Q290.5,111.9 290.7,113.4Z" fill="url(#pore)" stroke="#bdbdbd" stroke-width="1"/><path d="M291.9,122.7 Q292.4,127.0 292.8,126.6 Q293.3,126.1 293.7,125.4 Q294.0,124.6 294.2,123.8 Q294.3,123.0 294.2,122.2 Q294.0,121.4 293.7,120.6 Q293.3,119.9 292.7,119.3 Q292.1,118.7 291.7,118.5 Q291.4,118.3 291.9,122.7Z" fill="url(#pore)" stroke="#bdbdbd" stroke-width="1"/><path d="M258.6,42.4 Q258.3,42.8 258.3,43.4 Q258.2,44.0 258.3,44.6 Q258.3,45.2 258.7,45.8 Q259.1,46.5 262.0,46.5 Q264.9,46.5 265.3,45.8 Q265.7,45.2 265.7,44.6 Q265.8,44.0 265.7,43.4 Q265.7,42.8 265.4,42.3 Q265.1,41.7 264.5,41.2 Q263.9,40.7 261.4,41.3 Q258.8,42.0 258.6,42.4Z" fill="#262626" stroke="#bdbdbd" stroke-width="1"/><path d="M276.4,67.4 Q276.8,67.7 277.4,67.7 Q278.0,67.8 278.6,67.7 Q279.2,67.7 279.7,67.4 Q280.3,67.1 280.7,66.7 Q281.1,66.3 281.4,65.7 Q281.7,65.2 281.7,64.6 Q281.8,64.0 281.7,63.4 Q281.7,62.8 281.2,62.1 Q280.8,61.4 278.2,61.2 Q275.5,61.1 275.2,61.4 Q274.9,61.7 274.6,62.3 Q274.3,62.8 274.3,63.4 Q274.2,64.0 274.2,64.5 Q274.3,65.1 275.1,66.1 Q276.0,67.2 276.4,67.4Z" fill="#262626" stroke="#bdbdbd" stroke-width="1"/><path d="M285.3,70.3 Q284.2,69.3 283.6,69.3 Q283.0,69.2 282.4,69.3 Q281.8,69.3 281.3,69.6 Q280.7,69.9 280.3,70.3 Q279.9,70.7 279.6,71.3 Q279.3,71.8 279.3,72.4 Q279.2,73.0 279.3,73.6 Q279.3,74.2 279.6,74.7 Q279.9,75.3 280.3,75.7 Q280.7,76.1 281.3,76.4 Q281.8,76.7 282.4,76.7 Q283.0,76.8 283.6,76.7 Q284.2,76.7 284.7,76.4 Q285.3,76.1 285.7,75.7 Q286.1,75.3 286.4,74.7 Q286.7,74.2 286.7,73.6 Q286.8,73.0 286.7,72.4 Q286.7,71.8 286.5,71.5 Q286.3,71.2 285.3,70.3Z" fill="#262626" stroke="#bdbdbd" stroke-width="1"/></g>
<g filter="url(#blur05)"><polyline points="284.0,4.0 292.0,20.0 299.0,42.0 306.0,62.0 313.0,82.0 319.0,102.0 326.0,128.0" fill="none" stroke="#c4c4c4" stroke-width="1.8" stroke-linejoin="round" stroke-linecap="round"/></g>
</g>
<rect x="185.3" y="128" width="178.9" height="9" fill="#000"/>
<rect x="186.3" y="129.2" width="7" height="6" fill="#2a2ae8"/>
<rect x="187.1" y="131" width="5.4" height="1.6" fill="#9a9af0"/>
<text x="195.8" y="131.3" font-size="3" fill="#ddd">1 μm</text>
<rect x="195.3" y="132.6" width="14" height="0.9" fill="#1faa3a"/>
<text x="222.8" y="133.3" font-size="3.1" fill="#cfcfcf">Mag =  1.50 K X</text>
<text x="247.8" y="133.3" font-size="3.1" fill="#cfcfcf">WD =  6.7 mm</text>
<text x="271.8" y="133.3" font-size="3.1" fill="#cfcfcf">EHT =  3.00 kV</text>
<text x="296.3" y="133.3" font-size="3.1" fill="#cfcfcf">Signal A = SE2</text>
<text x="321.8" y="133.3" font-size="3.1" fill="#cfcfcf">Date :13 Oct 2022</text>
<text x="188.7" y="15.4" font-size="9" font-weight="bold" fill="#fff">(b)</text>
<g clip-path="url(#cpc)" style="isolation:isolate">
<g filter="url(#blur3)"><rect x="360" y="0" width="190" height="135" fill="#555555"/><polygon points="360.0,0.0 402.0,0.0 408.0,60.0 402.0,135.0 360.0,135.0" fill="#737373"/><polygon points="360.0,0.0 405.0,0.0 405.0,9.0 360.0,9.0" fill="#4a4a4a"/><polygon points="360.0,0.0 376.0,0.0 376.0,32.0 360.0,32.0" fill="#4c4c4c"/><ellipse cx="398.0" cy="25.0" rx="14.0" ry="11.0" fill="#888888"/><ellipse cx="384.0" cy="80.0" rx="16.0" ry="20.0" fill="#777777"/><ellipse cx="380.0" cy="115.0" rx="14.0" ry="12.0" fill="#686868"/><polygon points="405.0,0.0 420.0,0.0 418.0,32.0 405.0,36.0" fill="#666666"/><polygon points="410.0,96.0 516.0,100.0 518.0,135.0 408.0,135.0" fill="#5a5a5a"/><polygon points="440.0,100.0 455.0,96.0 470.0,135.0 452.0,135.0" fill="#747474"/><polygon points="456.0,112.0 472.0,112.0 472.0,135.0 456.0,135.0" fill="#707070"/><polygon points="480.0,102.0 500.0,104.0 500.0,135.0 482.0,135.0" fill="#6c6c6c"/></g>
<rect x="366" y="4" width="179" height="124" filter="url(#texC)" style="mix-blend-mode:overlay" opacity="0.65"/>
<g filter="url(#blur1)"><polygon points="420.0,4.0 514.0,4.0 516.0,20.0 518.0,40.0 520.0,60.0 521.0,80.0 519.0,100.0 515.0,115.0 511.0,128.0 400.0,128.0 398.0,100.0 400.0,70.0 399.0,40.0 418.0,32.0" fill="#7a7a7a"/></g>
<g filter="url(#blur05)"><path d="M439.1,6.0 Q438.4,4.6 429.5,4.6 Q420.6,4.6 419.8,15.0 Q419.1,25.4 420.5,26.1 Q422.0,26.9 423.6,27.1 Q425.2,27.4 432.5,17.4 Q439.8,7.4 439.1,6.0Z" fill="#2c2c2c" stroke="#d0d0d0" stroke-width="0.9"/><path d="M445.8,9.5 Q444.0,8.6 442.4,8.4 Q440.8,8.1 433.5,18.1 Q426.2,28.1 426.9,29.6 Q427.7,31.1 428.2,31.6 Q428.6,32.0 433.7,33.2 Q438.8,34.3 444.3,31.4 Q449.8,28.5 448.7,19.5 Q447.5,10.4 445.8,9.5Z" fill="#323232" stroke="#d0d0d0" stroke-width="0.9"/><path d="M455.9,32.0 Q450.5,29.5 445.0,32.4 Q439.6,35.3 442.4,44.0 Q445.2,52.6 450.6,51.1 Q456.1,49.5 458.9,42.4 Q461.7,35.2 461.5,34.9 Q461.2,34.5 455.9,32.0Z" fill="url(#cellg)" stroke="#d0d0d0" stroke-width="0.9"/><path d="M443.1,54.8 Q444.1,53.3 441.2,44.4 Q438.4,35.5 431.9,34.0 Q425.4,32.5 425.1,33.8 Q424.9,35.2 427.6,44.0 Q430.3,52.8 432.8,55.0 Q435.2,57.2 438.6,56.7 Q442.0,56.3 443.1,54.8Z" fill="url(#cellg)" stroke="#d0d0d0" stroke-width="0.9"/><path d="M461.4,54.0 Q465.6,58.2 472.8,58.0 Q480.1,57.8 482.6,50.3 Q485.0,42.7 483.7,41.6 Q482.5,40.5 472.6,38.2 Q462.7,35.8 460.0,42.9 Q457.2,49.9 461.4,54.0Z" fill="url(#cellg)" stroke="#d0d0d0" stroke-width="0.9"/><path d="M456.2,30.9 Q461.3,33.3 466.3,21.0 Q471.3,8.8 470.2,7.7 Q469.2,6.7 467.2,5.6 Q465.2,4.6 459.5,4.6 Q453.8,4.6 451.8,5.6 Q449.8,6.7 449.1,7.3 Q448.5,8.0 449.7,18.2 Q451.0,28.5 456.2,30.9Z" fill="#474747" stroke="#d0d0d0" stroke-width="0.9"/><path d="M466.8,23.1 Q462.7,33.0 463.8,34.0 Q464.9,35.1 470.4,36.4 Q475.9,37.7 476.4,37.7 Q476.9,37.6 478.7,36.7 Q480.5,35.8 481.0,35.3 Q481.5,34.8 480.2,24.6 Q478.8,14.4 477.9,13.9 Q476.9,13.4 475.0,13.1 Q473.0,12.8 471.9,13.0 Q470.8,13.2 466.8,23.1Z" fill="#1e1e1e" stroke="#d0d0d0" stroke-width="0.9"/><path d="M484.6,40.8 Q485.9,41.8 488.5,41.2 Q491.1,40.5 493.7,38.4 Q496.3,36.3 498.4,33.4 Q500.4,30.5 495.6,17.5 Q490.8,4.6 484.8,4.6 Q478.8,4.6 481.1,22.1 Q483.3,39.7 484.6,40.8Z" fill="url(#cellg2)" stroke="#d0d0d0" stroke-width="0.9"/><path d="M511.5,51.6 Q517.8,48.6 507.3,43.0 Q496.8,37.4 494.5,39.3 Q492.3,41.1 498.7,47.9 Q505.1,54.6 511.5,51.6Z" fill="url(#cellg2)" stroke="#d0d0d0" stroke-width="0.9"/><path d="M474.6,74.0 Q479.2,69.0 479.9,65.6 Q480.7,62.2 480.3,61.3 Q479.8,60.4 479.1,59.8 Q478.5,59.1 472.1,59.2 Q465.6,59.4 462.6,64.4 Q459.5,69.4 459.6,69.6 Q459.6,69.9 462.7,74.4 Q465.7,78.8 467.8,78.9 Q470.0,79.0 474.6,74.0Z" fill="#2a2a2a" stroke="#d0d0d0" stroke-width="0.9"/><path d="M460.6,92.4 Q460.7,92.8 462.5,95.2 Q464.3,97.7 468.8,94.8 Q473.3,92.0 473.6,89.3 Q474.0,86.6 472.0,83.4 Q469.9,80.2 467.8,80.1 Q465.6,80.0 463.7,82.0 Q461.8,83.9 461.2,87.9 Q460.5,91.9 460.6,92.4Z" fill="url(#cellg)" stroke="#d0d0d0" stroke-width="0.9"/><path d="M461.0,114.0 Q465.8,116.0 468.9,112.4 Q472.0,108.9 468.0,104.4 Q464.1,100.0 463.1,100.8 Q462.2,101.6 459.2,106.8 Q456.2,111.9 461.0,114.0Z" fill="#353535" stroke="#d0d0d0" stroke-width="0.9"/><path d="M481.7,85.9 Q488.4,85.9 488.9,84.7 Q489.5,83.6 485.3,77.8 Q481.0,72.1 479.6,72.3 Q478.3,72.5 477.6,72.9 Q477.0,73.2 474.9,75.4 Q472.8,77.7 472.7,78.0 Q472.5,78.3 472.3,79.6 Q472.1,81.0 472.2,81.3 Q472.2,81.6 473.6,83.7 Q475.0,85.9 481.7,85.9Z" fill="#2e2e2e" stroke="#d0d0d0" stroke-width="0.9"/><path d="M474.8,89.6 Q474.4,92.1 478.0,95.9 Q481.6,99.7 485.7,96.0 Q489.8,92.3 489.9,92.1 Q489.9,92.0 489.7,90.6 Q489.5,89.3 488.9,88.2 Q488.4,87.1 481.8,87.1 Q475.2,87.1 474.8,89.6Z" fill="#2e2e2e" stroke="#d0d0d0" stroke-width="0.9"/><path d="M477.3,96.9 Q473.7,93.1 469.2,96.0 Q464.7,98.8 468.9,103.5 Q473.1,108.2 474.4,108.1 Q475.7,108.0 477.0,107.3 Q478.2,106.7 479.3,105.6 Q480.4,104.4 480.6,102.6 Q480.9,100.8 477.3,96.9Z" fill="#2e2e2e" stroke="#d0d0d0" stroke-width="0.9"/><path d="M487.3,64.0 Q482.0,61.9 481.2,65.5 Q480.4,69.2 485.5,76.1 Q490.6,83.1 493.2,79.7 Q495.8,76.3 495.8,76.1 Q495.9,75.9 494.2,71.0 Q492.5,66.2 487.3,64.0Z" fill="#262626" stroke="#d0d0d0" stroke-width="0.9"/><path d="M430.9,71.5 Q432.8,76.7 438.0,73.7 Q443.2,70.6 444.1,67.4 Q445.0,64.2 443.5,60.8 Q442.0,57.5 438.7,57.9 Q435.4,58.4 432.2,62.3 Q429.0,66.3 430.9,71.5Z" fill="#2c2c2c" stroke="#d0d0d0" stroke-width="0.9"/><path d="M434.1,79.1 Q432.7,78.2 431.7,79.3 Q430.7,80.4 430.9,86.2 Q431.2,91.9 434.5,91.3 Q437.8,90.6 439.0,88.2 Q440.2,85.8 437.9,82.9 Q435.5,80.0 434.1,79.1Z" fill="#2e2e2e" stroke="#d0d0d0" stroke-width="0.9"/><path d="M496.8,17.2 Q501.5,29.8 508.7,28.0 Q516.0,26.1 514.7,15.3 Q513.5,4.6 502.8,4.6 Q492.1,4.6 496.8,17.2Z" fill="url(#cellg2)" stroke="#d0d0d0" stroke-width="0.9"/><path d="M461.2,64.4 Q463.8,60.2 463.6,59.2 Q463.5,58.3 463.2,57.8 Q463.0,57.3 460.8,55.2 Q458.7,53.0 458.2,52.8 Q457.7,52.5 456.4,52.3 Q455.0,52.1 453.6,52.3 Q452.3,52.5 451.0,53.2 Q449.8,53.8 448.8,54.8 Q447.8,55.8 447.2,57.0 Q446.5,58.3 446.3,59.6 Q446.1,61.0 446.4,62.5 Q446.6,63.9 452.6,66.2 Q458.6,68.5 461.2,64.4Z" fill="#333" stroke="#d0d0d0" stroke-width="0.9"/><path d="M504.4,58.2 Q504.4,55.6 500.4,51.5 Q496.5,47.3 495.1,47.5 Q493.7,47.7 492.2,48.5 Q490.7,49.3 489.5,50.5 Q488.3,51.7 487.5,53.2 Q486.7,54.7 486.5,56.3 Q486.2,58.0 486.5,59.7 Q486.7,61.3 487.1,62.1 Q487.5,62.8 490.3,63.9 Q493.1,65.1 497.1,64.1 Q501.2,63.1 502.8,62.0 Q504.4,60.8 504.4,58.2Z" fill="#3a3a3a" stroke="#d0d0d0" stroke-width="0.9"/><path d="M495.8,100.5 Q498.1,106.0 499.8,103.4 Q501.6,100.7 501.2,98.2 Q500.9,95.7 497.2,95.3 Q493.6,95.0 495.8,100.5Z" fill="#505050" stroke="#d0d0d0" stroke-width="0.9"/><path d="M481.8,102.8 Q481.5,104.7 482.2,106.0 Q482.8,107.2 483.8,108.2 Q484.8,109.2 485.5,109.5 Q486.2,109.9 490.0,109.9 Q493.8,109.9 494.5,109.5 Q495.2,109.2 496.2,108.2 Q497.2,107.2 494.7,100.9 Q492.2,94.6 491.6,93.9 Q490.9,93.3 490.8,93.2 Q490.6,93.2 486.4,97.0 Q482.1,100.9 481.8,102.8Z" fill="#555" stroke="#d0d0d0" stroke-width="0.9"/><path d="M442.8,102.9 Q441.3,103.4 439.9,105.8 Q438.5,108.3 438.6,109.2 Q438.8,110.0 443.4,111.7 Q448.0,113.3 449.1,112.8 Q450.2,112.2 450.6,111.9 Q450.9,111.5 450.4,108.8 Q449.8,106.2 448.2,104.5 Q446.5,102.8 445.4,102.6 Q444.4,102.3 442.8,102.9Z" fill="#444" stroke="#d0d0d0" stroke-width="0.9"/><path d="M452.2,109.3 Q452.8,109.7 453.9,109.8 Q455.0,110.0 455.5,109.9 Q456.0,109.8 458.4,105.8 Q460.7,101.8 456.9,101.6 Q453.1,101.4 452.1,103.7 Q451.0,105.9 451.3,107.5 Q451.6,109.0 452.2,109.3Z" fill="#3a3a3a" stroke="#d0d0d0" stroke-width="0.9"/><path d="M426.6,114.8 Q421.7,112.9 420.2,114.9 Q418.8,116.9 419.6,122.2 Q420.5,127.4 426.7,127.4 Q432.9,127.4 432.2,122.0 Q431.4,116.7 426.6,114.8Z" fill="#5a5a5a" stroke="#d0d0d0" stroke-width="0.9"/><path d="M443.7,113.1 Q438.4,111.2 435.5,113.8 Q432.6,116.5 433.4,121.9 Q434.1,127.4 440.8,127.4 Q447.6,127.4 448.3,121.2 Q449.0,114.9 443.7,113.1Z" fill="url(#cellg3)" stroke="#d0d0d0" stroke-width="0.9"/><path d="M451.1,114.1 Q450.2,114.8 449.5,121.1 Q448.8,127.4 458.0,127.4 Q467.3,127.4 466.4,122.3 Q465.5,117.2 460.4,115.0 Q455.2,112.8 453.6,113.1 Q452.0,113.4 451.1,114.1Z" fill="url(#cellg3)" stroke="#d0d0d0" stroke-width="0.9"/><path d="M469.9,113.2 Q466.7,116.9 467.5,121.7 Q468.3,126.4 468.5,126.6 Q468.7,126.7 469.3,127.1 Q470.0,127.4 475.0,127.4 Q480.0,127.4 480.7,127.1 Q481.4,126.7 481.9,118.7 Q482.4,110.7 481.3,109.7 Q480.2,108.7 476.7,109.1 Q473.1,109.4 469.9,113.2Z" fill="#4a4a4a" stroke="#d0d0d0" stroke-width="0.9"/><path d="M489.7,111.1 Q483.6,111.1 483.1,119.2 Q482.5,127.4 489.8,127.4 Q497.0,127.4 496.5,119.2 Q495.9,111.1 489.7,111.1Z" fill="url(#cellg3)" stroke="#d0d0d0" stroke-width="0.9"/><path d="M500.3,110.0 Q498.2,109.8 497.6,110.3 Q497.0,110.8 497.6,118.9 Q498.2,127.0 498.6,127.2 Q499.0,127.4 504.0,127.4 Q509.0,127.4 509.7,127.1 Q510.3,126.7 510.6,126.4 Q510.9,126.1 512.2,122.0 Q513.5,117.9 508.0,114.1 Q502.5,110.2 500.3,110.0Z" fill="#555" stroke="#d0d0d0" stroke-width="0.9"/><path d="M411.5,117.9 Q405.5,118.5 405.0,119.4 Q404.5,120.3 404.3,121.6 Q404.1,123.0 404.3,124.4 Q404.5,125.7 405.0,126.6 Q405.4,127.4 412.3,127.4 Q419.3,127.4 418.5,122.4 Q417.6,117.4 411.5,117.9Z" fill="#666" stroke="#d0d0d0" stroke-width="0.9"/><path d="M510.3,43.2 Q517.4,47.0 517.7,46.7 Q518.0,46.4 517.3,39.4 Q516.6,32.5 515.7,32.0 Q514.7,31.5 513.4,31.3 Q512.0,31.1 510.6,31.3 Q509.3,31.5 508.0,32.2 Q506.8,32.8 505.8,33.8 Q504.8,34.8 504.2,36.0 Q503.5,37.3 503.4,38.3 Q503.2,39.4 510.3,43.2Z" fill="#3a3a3a" stroke="#d0d0d0" stroke-width="0.9"/><path d="M506.5,55.5 Q506.3,55.8 506.2,56.9 Q506.0,58.0 506.2,59.1 Q506.3,60.2 506.8,61.0 Q507.2,61.9 507.8,62.3 Q508.4,62.6 513.8,60.9 Q519.3,59.2 519.0,56.5 Q518.7,53.9 517.9,53.1 Q517.1,52.3 516.1,51.8 Q515.2,51.3 510.9,53.3 Q506.7,55.2 506.5,55.5Z" fill="#333" stroke="#d0d0d0" stroke-width="0.9"/><path d="M506.6,107.1 Q503.7,109.6 508.7,113.0 Q513.7,116.5 513.9,116.4 Q514.0,116.4 514.2,115.6 Q514.4,114.8 515.5,110.8 Q516.6,106.8 513.0,105.7 Q509.5,104.6 506.6,107.1Z" fill="#444" stroke="#d0d0d0" stroke-width="0.9"/><path d="M434.8,112.9 Q437.6,110.3 437.5,109.4 Q437.3,108.5 432.5,104.0 Q427.6,99.5 426.6,100.0 Q425.5,100.4 423.9,102.9 Q422.4,105.4 422.1,108.1 Q421.8,110.9 421.9,111.3 Q422.1,111.8 427.0,113.7 Q431.9,115.5 434.8,112.9Z" fill="#3a3a3a" stroke="#d0d0d0" stroke-width="0.9"/><path d="M413.0,47.7 Q413.7,47.6 414.9,46.6 Q416.1,45.7 416.6,44.8 Q417.0,44.0 417.2,43.0 Q417.3,42.0 417.2,41.0 Q417.0,40.0 416.6,39.2 Q416.1,38.3 415.4,37.6 Q414.7,36.9 413.8,36.4 Q413.0,36.0 412.0,35.8 Q411.0,35.7 409.0,36.4 Q407.0,37.2 406.4,37.7 Q405.9,38.3 405.4,39.2 Q405.0,40.0 404.8,41.0 Q404.7,42.0 404.8,42.6 Q404.8,43.1 408.6,45.5 Q412.3,47.8 413.0,47.7Z" fill="#232323" stroke="#d0d0d0" stroke-width="0.9"/><path d="M415.7,53.7 Q414.5,50.8 413.9,50.7 Q413.3,50.6 412.7,50.7 Q412.0,50.8 411.5,51.1 Q410.9,51.4 410.2,52.5 Q409.4,53.6 409.3,54.2 Q409.2,54.7 411.6,56.5 Q413.9,58.2 415.4,57.4 Q416.8,56.6 415.7,53.7Z" fill="#232323" stroke="#d0d0d0" stroke-width="0.9"/><path d="M416.6,53.4 Q417.8,56.3 418.5,56.3 Q419.2,56.4 420.6,55.2 Q422.1,54.1 420.2,51.3 Q418.3,48.5 417.4,48.8 Q416.6,49.1 416.0,49.8 Q415.5,50.5 416.6,53.4Z" fill="#232323" stroke="#d0d0d0" stroke-width="0.9"/><path d="M410.9,57.3 Q408.5,55.5 408.0,55.8 Q407.4,56.1 407.0,56.6 Q406.5,57.0 406.2,57.6 Q405.9,58.1 405.8,58.8 Q405.7,59.4 405.8,60.0 Q405.9,60.7 406.2,61.2 Q406.5,61.8 407.3,62.4 Q408.1,63.0 410.5,61.4 Q413.0,59.9 413.1,59.4 Q413.3,59.0 410.9,57.3Z" fill="#232323" stroke="#d0d0d0" stroke-width="0.9"/><path d="M414.1,59.6 Q414.0,60.1 414.9,62.1 Q415.9,64.1 418.3,62.9 Q420.6,61.7 419.7,60.0 Q418.8,58.2 418.4,58.0 Q418.1,57.8 417.6,57.8 Q417.2,57.7 415.7,58.4 Q414.3,59.1 414.1,59.6Z" fill="#232323" stroke="#d0d0d0" stroke-width="0.9"/><path d="M421.4,55.9 Q419.8,57.2 419.8,57.5 Q419.7,57.8 420.7,59.7 Q421.7,61.6 422.1,61.8 Q422.4,62.1 423.1,62.2 Q423.7,62.3 424.3,62.2 Q425.0,62.1 425.5,61.8 Q426.1,61.5 426.5,61.0 Q427.0,60.6 427.3,60.0 Q427.6,59.5 427.7,58.8 Q427.8,58.2 427.7,57.6 Q427.6,56.9 427.3,56.4 Q427.0,55.8 426.5,55.4 Q426.1,54.9 425.5,54.6 Q425.0,54.3 424.0,54.5 Q423.0,54.6 421.4,55.9Z" fill="#232323" stroke="#d0d0d0" stroke-width="0.9"/><path d="M423.9,53.5 Q424.7,53.4 425.3,52.9 Q425.8,52.4 426.1,51.8 Q426.4,51.3 426.5,50.6 Q426.6,50.0 426.5,49.4 Q426.4,48.7 426.1,48.2 Q425.8,47.6 425.3,47.2 Q424.9,46.7 424.3,46.4 Q423.8,46.1 423.1,46.0 Q422.5,45.9 421.9,46.0 Q421.2,46.1 420.7,46.4 Q420.1,46.7 419.6,47.3 Q419.1,47.9 421.0,50.7 Q423.0,53.6 423.9,53.5Z" fill="#232323" stroke="#d0d0d0" stroke-width="0.9"/><path d="M415.0,65.3 Q415.2,64.8 414.2,62.9 Q413.2,60.9 411.1,62.3 Q409.0,63.6 409.0,64.3 Q409.1,64.9 409.4,65.4 Q409.6,66.0 410.0,66.3 Q410.3,66.6 411.5,66.9 Q412.6,67.2 413.8,66.5 Q414.9,65.7 415.0,65.3Z" fill="#232323" stroke="#d0d0d0" stroke-width="0.9"/><path d="M418.2,67.4 Q420.5,68.9 421.1,68.4 Q421.8,67.9 422.0,67.3 Q422.3,66.8 422.4,66.3 Q422.5,65.7 422.4,65.1 Q422.3,64.6 422.0,64.1 Q421.8,63.5 421.3,63.1 Q420.9,62.7 418.5,63.9 Q416.1,65.1 416.0,65.5 Q415.9,65.8 418.2,67.4Z" fill="#232323" stroke="#d0d0d0" stroke-width="0.9"/><path d="M411.2,67.9 Q410.1,67.6 409.8,67.7 Q409.5,67.8 408.3,69.8 Q407.2,71.9 407.5,72.6 Q407.8,73.4 408.2,73.8 Q408.6,74.2 409.2,74.4 Q409.7,74.7 410.2,74.8 Q410.8,74.9 411.2,74.8 Q411.6,74.7 412.7,73.8 Q413.8,72.8 413.1,70.5 Q412.3,68.2 411.2,67.9Z" fill="#232323" stroke="#d0d0d0" stroke-width="0.9"/><path d="M416.3,72.6 Q417.7,72.7 418.5,72.1 Q419.3,71.6 419.6,70.7 Q419.9,69.8 417.6,68.2 Q415.3,66.6 414.3,67.3 Q413.3,68.0 414.1,70.2 Q414.8,72.5 416.3,72.6Z" fill="#232323" stroke="#d0d0d0" stroke-width="0.9"/><path d="M406.6,81.7 Q408.3,82.9 408.9,82.8 Q409.4,82.7 409.9,82.5 Q410.3,82.3 411.0,81.3 Q411.8,80.4 411.9,79.9 Q411.9,79.4 411.5,78.2 Q411.1,76.9 410.8,76.6 Q410.5,76.2 409.9,76.0 Q409.4,75.7 408.9,75.6 Q408.3,75.5 407.7,75.6 Q407.2,75.7 406.7,76.0 Q406.1,76.2 405.7,76.6 Q405.3,77.0 405.1,77.6 Q404.8,78.1 404.7,78.6 Q404.6,79.2 404.8,79.9 Q404.9,80.6 406.6,81.7Z" fill="#232323" stroke="#d0d0d0" stroke-width="0.9"/><path d="M417.7,78.7 Q419.3,77.3 419.2,76.4 Q419.1,75.5 418.9,75.1 Q418.7,74.6 418.3,74.2 Q417.9,73.8 416.2,73.7 Q414.6,73.5 413.4,74.5 Q412.3,75.5 412.2,76.0 Q412.1,76.6 412.5,77.8 Q412.9,79.1 413.2,79.4 Q413.4,79.7 414.8,79.9 Q416.1,80.1 417.7,78.7Z" fill="#232323" stroke="#d0d0d0" stroke-width="0.9"/><path d="M412.6,86.7 Q413.9,87.7 414.8,87.6 Q415.6,87.6 416.1,87.3 Q416.7,87.1 417.1,86.7 Q417.5,86.3 417.7,85.9 Q417.8,85.5 416.9,83.3 Q415.9,81.1 414.6,80.9 Q413.3,80.7 412.9,80.8 Q412.5,81.0 411.8,82.0 Q411.0,83.0 410.9,83.5 Q410.8,84.1 410.9,84.7 Q411.0,85.2 411.1,85.4 Q411.2,85.6 412.6,86.7Z" fill="#232323" stroke="#d0d0d0" stroke-width="0.9"/><path d="M420.6,78.1 Q420.0,78.0 418.4,79.4 Q416.9,80.8 417.8,83.0 Q418.8,85.1 419.1,85.2 Q419.5,85.3 421.5,83.8 Q423.6,82.2 423.6,82.0 Q423.7,81.7 423.6,81.1 Q423.5,80.6 423.2,80.1 Q423.0,79.5 422.6,79.1 Q422.2,78.7 421.6,78.5 Q421.1,78.2 420.6,78.1Z" fill="#232323" stroke="#d0d0d0" stroke-width="0.9"/><path d="M422.2,84.5 Q420.1,86.1 420.2,87.1 Q420.4,88.1 421.2,89.0 Q422.0,89.8 422.9,90.0 Q423.7,90.3 424.3,90.2 Q424.8,90.1 425.3,89.8 Q425.9,89.6 426.3,89.2 Q426.7,88.8 426.9,88.2 Q427.2,87.7 427.3,87.2 Q427.4,86.6 427.3,86.0 Q427.2,85.5 426.9,85.0 Q426.7,84.4 426.3,84.0 Q425.9,83.6 425.0,83.3 Q424.2,83.0 422.2,84.5Z" fill="#232323" stroke="#d0d0d0" stroke-width="0.9"/><path d="M420.4,71.8 Q419.4,73.4 420.0,75.1 Q420.6,76.8 423.5,78.1 Q426.3,79.4 426.7,79.2 Q427.1,79.0 427.8,78.3 Q428.5,77.6 428.9,76.8 Q429.3,75.9 429.5,74.9 Q429.6,74.0 429.5,73.1 Q429.3,72.1 428.9,71.2 Q428.5,70.4 427.8,69.7 Q427.1,69.0 426.2,68.6 Q425.2,68.1 423.3,69.2 Q421.4,70.3 420.4,71.8Z" fill="#232323" stroke="#d0d0d0" stroke-width="0.9"/><path d="M409.5,105.1 Q410.6,102.5 407.5,101.1 Q404.4,99.8 403.8,100.4 Q403.1,101.0 402.8,101.6 Q402.4,102.3 402.3,103.1 Q402.2,103.8 402.3,104.5 Q402.4,105.3 402.8,106.0 Q403.1,106.6 403.6,107.2 Q404.2,107.7 404.8,108.0 Q405.5,108.4 406.3,108.5 Q407.1,108.6 407.8,108.2 Q408.5,107.7 409.5,105.1Z" fill="#232323" stroke="#d0d0d0" stroke-width="0.9"/><path d="M411.9,102.5 Q411.6,102.6 410.6,105.1 Q409.6,107.7 413.2,108.5 Q416.9,109.4 417.3,108.6 Q417.8,107.8 417.9,107.0 Q418.0,106.3 417.7,105.3 Q417.5,104.2 414.8,103.3 Q412.1,102.4 411.9,102.5Z" fill="#232323" stroke="#d0d0d0" stroke-width="0.9"/><path d="M405.5,98.6 Q405.6,99.2 408.4,100.4 Q411.2,101.6 411.4,101.5 Q411.6,101.4 412.1,98.4 Q412.6,95.4 412.1,95.0 Q411.7,94.6 409.7,94.5 Q407.8,94.4 407.5,94.5 Q407.1,94.7 406.7,95.2 Q406.2,95.6 405.9,96.2 Q405.6,96.7 405.5,97.4 Q405.4,98.0 405.5,98.6Z" fill="#232323" stroke="#d0d0d0" stroke-width="0.9"/><path d="M413.1,98.5 Q412.6,101.5 414.7,102.2 Q416.7,102.9 417.4,102.6 Q418.1,102.3 418.5,101.8 Q419.0,101.4 419.3,100.8 Q419.6,100.3 419.7,99.6 Q419.8,99.0 419.7,98.4 Q419.6,97.7 419.3,97.2 Q419.0,96.7 416.7,96.0 Q414.3,95.2 414.0,95.4 Q413.6,95.6 413.1,98.5Z" fill="#232323" stroke="#d0d0d0" stroke-width="0.9"/><path d="M412.5,109.4 Q409.2,108.6 408.7,109.4 Q408.1,110.2 408.0,110.9 Q407.9,111.5 408.0,112.1 Q408.1,112.8 408.4,113.3 Q408.7,113.9 409.2,114.3 Q409.6,114.8 410.2,115.1 Q410.7,115.4 411.4,115.5 Q412.0,115.6 412.6,115.5 Q413.3,115.4 413.8,115.1 Q414.4,114.8 414.8,114.3 Q415.3,113.9 415.6,113.3 Q415.9,112.8 416.0,112.1 Q416.1,111.5 415.9,110.8 Q415.8,110.2 412.5,109.4Z" fill="#232323" stroke="#d0d0d0" stroke-width="0.9"/><path d="M418.5,88.0 Q418.0,87.9 416.7,88.5 Q415.3,89.0 415.1,89.2 Q414.9,89.4 414.5,91.1 Q414.1,92.8 414.1,93.0 Q414.1,93.3 414.4,93.8 Q414.7,94.3 417.0,95.0 Q419.4,95.8 419.9,95.5 Q420.4,95.3 420.8,94.8 Q421.3,94.4 421.6,93.8 Q421.9,93.3 422.0,92.6 Q422.1,92.0 422.0,91.6 Q421.9,91.2 420.5,89.6 Q419.0,88.1 418.5,88.0Z" fill="#232323" stroke="#d0d0d0" stroke-width="0.9"/><path d="M407.4,87.9 Q405.6,90.0 405.7,90.7 Q405.8,91.4 406.1,92.0 Q406.4,92.6 406.8,93.0 Q407.1,93.3 409.8,93.5 Q412.4,93.7 412.7,93.5 Q412.9,93.3 413.4,91.1 Q414.0,89.0 411.8,87.3 Q409.6,85.6 409.4,85.7 Q409.2,85.7 407.4,87.9Z" fill="#232323" stroke="#d0d0d0" stroke-width="0.9"/><path d="M408.2,67.4 Q408.1,67.0 407.9,66.5 Q407.7,66.1 407.3,65.7 Q406.9,65.3 406.5,65.1 Q406.0,64.9 405.5,64.8 Q405.0,64.7 404.5,64.8 Q404.0,64.9 403.5,65.1 Q403.1,65.3 402.7,65.7 Q402.3,66.1 402.1,66.5 Q401.9,67.0 401.8,67.5 Q401.7,68.0 401.8,68.5 Q401.9,69.0 402.1,69.5 Q402.3,69.9 402.7,70.3 Q403.1,70.7 403.5,70.9 Q404.0,71.1 404.5,71.2 Q405.0,71.3 405.5,71.2 Q406.0,71.1 406.3,71.0 Q406.7,70.8 407.5,69.3 Q408.3,67.9 408.2,67.4Z" fill="#232323" stroke="#d0d0d0" stroke-width="0.9"/><path d="M408.9,48.5 Q408.7,48.1 408.3,47.7 Q407.9,47.3 407.5,47.1 Q407.0,46.9 406.5,46.8 Q406.0,46.7 405.5,46.8 Q405.0,46.9 404.5,47.1 Q404.1,47.3 403.7,47.7 Q403.3,48.1 403.1,48.5 Q402.9,49.0 402.8,49.5 Q402.7,50.0 402.8,50.5 Q402.9,51.0 403.1,51.5 Q403.3,51.9 403.7,52.3 Q404.1,52.7 404.5,52.9 Q405.0,53.1 405.5,53.2 Q406.0,53.3 406.5,53.2 Q407.0,53.1 407.5,52.9 Q407.9,52.7 408.3,52.3 Q408.7,51.9 408.9,51.5 Q409.1,51.0 409.2,50.5 Q409.3,50.0 409.2,49.5 Q409.1,49.0 408.9,48.5Z" fill="#232323" stroke="#d0d0d0" stroke-width="0.9"/><path d="M405.8,82.5 Q405.0,81.9 404.5,81.8 Q404.0,81.7 403.5,81.8 Q403.0,81.9 402.5,82.1 Q402.1,82.3 401.7,82.7 Q401.3,83.1 401.1,83.5 Q400.9,84.0 400.8,84.5 Q400.7,85.0 400.8,85.5 Q400.9,86.0 401.1,86.5 Q401.3,86.9 401.7,87.3 Q402.1,87.7 402.5,87.9 Q403.0,88.1 403.5,88.2 Q404.0,88.3 404.5,88.2 Q405.0,88.1 405.5,87.9 Q405.9,87.7 406.3,87.3 Q406.7,86.9 406.9,86.5 Q407.1,86.0 407.2,85.5 Q407.3,85.0 407.2,84.5 Q407.1,84.0 406.9,83.6 Q406.7,83.1 405.8,82.5Z" fill="#232323" stroke="#d0d0d0" stroke-width="0.9"/><path d="M439.5,92.4 Q438.1,91.7 436.7,92.0 Q435.4,92.2 434.9,92.7 Q434.5,93.1 434.1,93.9 Q433.7,94.7 433.6,95.2 Q433.5,95.7 436.6,97.1 Q439.6,98.6 440.8,96.6 Q442.0,94.7 441.5,93.9 Q440.9,93.2 439.5,92.4Z" fill="#232323" stroke="#d0d0d0" stroke-width="0.9"/><path d="M448.3,92.6 Q448.6,90.8 447.4,89.9 Q446.3,89.0 444.1,90.9 Q441.9,92.9 442.4,93.5 Q442.9,94.2 443.9,94.6 Q444.9,94.9 446.5,94.6 Q448.0,94.4 448.3,92.6Z" fill="#232323" stroke="#d0d0d0" stroke-width="0.9"/><path d="M447.3,83.7 Q446.6,83.6 446.0,84.4 Q445.5,85.2 446.1,86.6 Q446.6,88.1 447.9,89.0 Q449.2,90.0 449.8,89.7 Q450.4,89.3 450.7,87.9 Q451.1,86.4 449.5,85.1 Q448.0,83.8 447.3,83.7Z" fill="#232323" stroke="#d0d0d0" stroke-width="0.9"/><path d="M446.5,81.4 Q446.8,82.6 447.4,82.7 Q448.1,82.8 450.3,81.7 Q452.5,80.6 451.6,78.9 Q450.7,77.2 449.4,77.1 Q448.0,77.0 447.6,77.4 Q447.2,77.7 446.7,78.9 Q446.3,80.2 446.5,81.4Z" fill="#232323" stroke="#d0d0d0" stroke-width="0.9"/><path d="M449.3,92.7 Q449.0,94.5 449.5,95.1 Q450.0,95.6 450.8,95.9 Q451.5,96.2 453.9,95.2 Q456.3,94.2 456.5,93.4 Q456.7,92.7 456.6,92.1 Q456.5,91.6 453.7,90.9 Q450.9,90.2 450.2,90.6 Q449.6,90.9 449.3,92.7Z" fill="#232323" stroke="#d0d0d0" stroke-width="0.9"/><path d="M448.7,95.8 Q448.3,95.4 446.8,95.6 Q445.3,95.8 445.1,98.6 Q444.9,101.3 445.7,101.5 Q446.6,101.7 447.8,98.9 Q449.1,96.2 448.7,95.8Z" fill="#232323" stroke="#d0d0d0" stroke-width="0.9"/><path d="M442.9,84.9 Q444.6,84.7 445.2,83.8 Q445.8,82.9 445.6,81.8 Q445.4,80.6 441.5,80.4 Q437.6,80.2 437.5,80.4 Q437.4,80.6 439.3,82.9 Q441.1,85.2 442.9,84.9Z" fill="#232323" stroke="#d0d0d0" stroke-width="0.9"/><path d="M440.3,88.0 Q439.4,89.7 439.7,90.4 Q440.0,91.2 440.6,91.7 Q441.2,92.1 443.4,90.2 Q445.6,88.2 445.1,87.0 Q444.6,85.8 442.9,86.0 Q441.2,86.2 440.3,88.0Z" fill="#232323" stroke="#d0d0d0" stroke-width="0.9"/><path d="M507.3,79.1 Q509.0,80.1 509.8,79.3 Q510.5,78.5 510.5,78.1 Q510.5,77.7 508.4,76.9 Q506.2,76.2 505.9,77.1 Q505.6,78.0 507.3,79.1Z" fill="#232323" stroke="#d0d0d0" stroke-width="0.9"/><path d="M501.9,85.9 Q500.2,86.9 501.6,88.4 Q503.1,89.9 505.0,89.6 Q506.9,89.2 505.8,87.1 Q504.7,85.0 504.2,84.9 Q503.6,84.8 501.9,85.9Z" fill="#232323" stroke="#d0d0d0" stroke-width="0.9"/><path d="M511.5,78.0 Q511.5,78.4 513.4,79.5 Q515.4,80.5 515.7,79.3 Q516.1,78.0 514.4,76.8 Q512.7,75.6 512.1,76.5 Q511.5,77.5 511.5,78.0Z" fill="#232323" stroke="#d0d0d0" stroke-width="0.9"/><path d="M506.0,96.8 Q505.4,95.6 504.2,95.2 Q503.0,94.8 502.5,95.1 Q501.9,95.4 502.3,97.8 Q502.6,100.1 504.6,99.1 Q506.5,98.1 506.0,96.8Z" fill="#232323" stroke="#d0d0d0" stroke-width="0.9"/><path d="M514.4,84.2 Q512.7,85.7 512.7,86.4 Q512.7,87.1 513.9,88.0 Q515.1,88.9 517.5,87.9 Q519.8,86.9 519.9,86.1 Q520.0,85.4 519.7,84.7 Q519.5,84.1 517.8,83.4 Q516.1,82.6 514.4,84.2Z" fill="#232323" stroke="#d0d0d0" stroke-width="0.9"/><path d="M508.3,98.3 Q509.1,98.7 510.2,98.0 Q511.4,97.4 511.8,96.4 Q512.2,95.3 510.4,93.8 Q508.6,92.4 507.5,93.8 Q506.3,95.2 506.9,96.6 Q507.6,97.9 508.3,98.3Z" fill="#232323" stroke="#d0d0d0" stroke-width="0.9"/><path d="M510.8,72.5 Q512.5,73.8 513.4,73.0 Q514.3,72.1 514.0,70.3 Q513.6,68.5 512.5,68.0 Q511.5,67.4 511.2,67.5 Q510.9,67.5 510.2,67.9 Q509.5,68.3 509.3,69.8 Q509.0,71.2 510.8,72.5Z" fill="#232323" stroke="#d0d0d0" stroke-width="0.9"/><path d="M515.2,93.7 Q515.0,94.0 516.9,95.6 Q518.8,97.3 519.0,95.5 Q519.1,93.7 517.3,93.5 Q515.4,93.4 515.2,93.7Z" fill="#232323" stroke="#d0d0d0" stroke-width="0.9"/><path d="M517.1,72.2 Q519.0,72.6 519.5,71.9 Q520.1,71.2 520.0,69.9 Q519.9,68.6 519.4,68.0 Q518.9,67.3 518.7,67.2 Q518.5,67.1 516.6,67.8 Q514.6,68.5 514.9,70.2 Q515.3,71.9 517.1,72.2Z" fill="#232323" stroke="#d0d0d0" stroke-width="0.9"/><path d="M452.7,72.1 Q452.4,71.4 451.8,70.9 Q451.2,70.5 450.4,70.5 Q449.7,70.5 449.3,70.6 Q449.0,70.8 448.5,71.4 Q448.1,72.1 448.0,72.4 Q448.0,72.8 448.2,73.5 Q448.4,74.3 449.1,74.7 Q449.7,75.1 450.4,75.1 Q451.2,75.1 451.5,75.0 Q451.9,74.8 452.3,74.2 Q452.8,73.6 452.8,73.2 Q452.9,72.8 452.7,72.1Z" fill="#262626" stroke="#d0d0d0" stroke-width="0.9"/><path d="M443.9,79.4 Q444.1,79.2 444.3,78.5 Q444.5,77.8 444.5,77.5 Q444.4,77.1 444.0,76.5 Q443.6,76.0 443.3,75.8 Q443.0,75.6 442.2,75.6 Q441.5,75.6 441.0,76.1 Q440.4,76.5 440.2,77.2 Q439.9,77.8 440.0,78.2 Q440.1,78.5 440.3,78.9 Q440.5,79.3 442.1,79.4 Q443.8,79.5 443.9,79.4Z" fill="#262626" stroke="#d0d0d0" stroke-width="0.9"/><path d="M452.1,76.7 Q451.9,77.1 452.7,78.8 Q453.5,80.4 454.1,80.8 Q454.6,81.1 455.2,81.0 Q455.7,81.0 456.1,80.7 Q456.5,80.5 457.1,79.8 Q457.6,79.0 457.6,78.1 Q457.6,77.1 457.1,76.4 Q456.5,75.6 456.1,75.4 Q455.7,75.2 454.8,75.2 Q453.8,75.2 453.0,75.8 Q452.3,76.4 452.1,76.7Z" fill="#262626" stroke="#d0d0d0" stroke-width="0.9"/><path d="M453.3,84.8 Q454.8,84.0 454.7,83.1 Q454.6,82.2 453.8,81.8 Q453.1,81.4 451.1,82.4 Q449.1,83.4 450.4,84.5 Q451.7,85.6 453.3,84.8Z" fill="#262626" stroke="#d0d0d0" stroke-width="0.9"/><path d="M453.7,89.9 Q456.0,90.4 456.6,89.7 Q457.1,88.9 457.2,88.4 Q457.3,87.8 457.2,87.3 Q457.1,86.8 456.9,86.3 Q456.6,85.8 456.0,85.3 Q455.4,84.8 453.7,85.7 Q452.1,86.6 451.7,87.9 Q451.4,89.3 453.7,89.9Z" fill="#262626" stroke="#d0d0d0" stroke-width="0.9"/><path d="M437.3,98.5 Q435.1,97.5 434.7,97.9 Q434.3,98.3 434.1,98.8 Q433.8,99.3 433.7,99.8 Q433.6,100.4 433.7,100.9 Q433.8,101.4 434.1,101.9 Q434.3,102.4 434.7,102.8 Q435.1,103.2 435.6,103.4 Q436.1,103.7 436.6,103.8 Q437.1,103.8 437.7,103.8 Q438.2,103.7 438.7,103.4 Q439.2,103.2 439.7,102.6 Q440.1,102.0 439.8,100.8 Q439.4,99.6 437.3,98.5Z" fill="#262626" stroke="#d0d0d0" stroke-width="0.9"/><path d="M443.5,95.6 Q442.8,95.4 441.6,97.3 Q440.4,99.3 440.7,100.4 Q441.0,101.5 441.6,101.7 Q442.2,101.9 443.0,101.6 Q443.8,101.3 444.1,98.6 Q444.3,95.8 443.5,95.6Z" fill="#262626" stroke="#d0d0d0" stroke-width="0.9"/><path d="M447.8,102.6 Q448.2,103.0 448.9,103.2 Q449.6,103.4 450.4,103.1 Q451.2,102.9 451.7,101.8 Q452.2,100.7 451.8,99.4 Q451.3,98.1 450.9,97.9 Q450.5,97.7 450.0,97.7 Q449.5,97.6 448.5,99.9 Q447.4,102.2 447.8,102.6Z" fill="#262626" stroke="#d0d0d0" stroke-width="0.9"/><path d="M455.5,100.4 Q457.9,100.5 458.2,99.7 Q458.5,98.8 458.4,98.3 Q458.3,97.8 458.1,97.3 Q457.8,96.9 457.5,96.5 Q457.1,96.2 456.3,95.9 Q455.5,95.6 454.1,96.2 Q452.6,96.9 452.4,97.2 Q452.3,97.5 452.7,98.9 Q453.1,100.3 455.5,100.4Z" fill="#262626" stroke="#d0d0d0" stroke-width="0.9"/><path d="M514.2,61.9 Q512.9,62.4 512.4,63.1 Q511.9,63.8 511.8,64.4 Q511.7,64.9 512.0,65.8 Q512.3,66.7 513.2,67.2 Q514.1,67.6 516.3,66.9 Q518.4,66.1 518.5,65.5 Q518.7,64.9 518.6,64.4 Q518.5,63.8 518.2,63.4 Q518.0,62.9 517.6,62.5 Q517.2,62.1 516.4,61.8 Q515.6,61.5 514.2,61.9Z" fill="#262626" stroke="#d0d0d0" stroke-width="0.9"/><path d="M502.2,70.3 Q502.0,69.0 501.4,68.7 Q500.9,68.3 500.1,68.3 Q499.3,68.3 498.7,68.8 Q498.1,69.2 497.9,69.6 Q497.7,69.9 497.7,70.7 Q497.7,71.5 498.2,72.1 Q498.6,72.7 499.0,72.9 Q499.3,73.1 500.1,73.1 Q500.9,73.1 501.5,72.6 Q502.2,72.2 502.3,71.9 Q502.4,71.6 502.2,70.3Z" fill="#262626" stroke="#d0d0d0" stroke-width="0.9"/><path d="M507.3,69.7 Q507.3,69.1 506.9,68.5 Q506.5,68.0 505.9,67.8 Q505.3,67.6 504.7,67.8 Q504.0,68.0 503.6,68.5 Q503.3,69.1 503.3,69.7 Q503.3,70.4 503.4,70.7 Q503.6,71.0 503.8,71.2 Q504.0,71.5 504.7,71.7 Q505.3,71.9 505.9,71.7 Q506.5,71.5 506.9,70.9 Q507.3,70.4 507.3,69.7Z" fill="#262626" stroke="#d0d0d0" stroke-width="0.9"/><path d="M501.4,74.0 Q499.7,74.8 499.6,75.5 Q499.4,76.1 499.6,76.8 Q499.8,77.5 501.4,78.2 Q503.0,78.9 503.8,78.4 Q504.5,77.9 505.0,76.7 Q505.4,75.5 505.3,74.7 Q505.1,73.9 504.1,73.5 Q503.2,73.1 501.4,74.0Z" fill="#262626" stroke="#d0d0d0" stroke-width="0.9"/><path d="M507.4,72.8 Q506.8,73.2 506.6,73.6 Q506.4,74.0 506.4,74.6 Q506.4,75.1 508.6,75.9 Q510.8,76.7 511.4,75.8 Q511.9,74.9 511.9,74.7 Q511.9,74.6 510.3,73.4 Q508.6,72.2 508.3,72.2 Q508.0,72.3 507.4,72.8Z" fill="#262626" stroke="#d0d0d0" stroke-width="0.9"/><path d="M517.7,76.4 Q518.7,75.7 518.7,75.0 Q518.7,74.3 518.4,73.9 Q518.2,73.5 516.6,73.2 Q515.0,72.8 514.1,73.7 Q513.2,74.5 513.2,74.6 Q513.1,74.7 514.9,76.0 Q516.6,77.2 517.7,76.4Z" fill="#262626" stroke="#d0d0d0" stroke-width="0.9"/><path d="M502.8,81.3 Q502.6,79.9 501.4,79.3 Q500.2,78.8 499.5,79.0 Q498.7,79.3 498.2,80.0 Q497.7,80.7 497.7,81.6 Q497.7,82.4 497.9,82.8 Q498.1,83.2 498.8,83.7 Q499.5,84.2 500.4,84.2 Q501.3,84.2 501.6,84.0 Q502.0,83.8 502.5,83.3 Q502.9,82.7 502.8,81.3Z" fill="#262626" stroke="#d0d0d0" stroke-width="0.9"/><path d="M506.8,83.2 Q507.6,83.0 508.0,82.4 Q508.4,81.8 508.5,81.4 Q508.6,81.0 506.8,79.9 Q505.1,78.9 504.9,79.0 Q504.7,79.1 504.3,79.7 Q503.8,80.3 503.8,81.0 Q503.8,81.8 504.0,82.1 Q504.2,82.5 504.4,82.7 Q504.7,83.0 505.4,83.2 Q506.1,83.5 506.8,83.2Z" fill="#262626" stroke="#d0d0d0" stroke-width="0.9"/><path d="M513.7,83.4 Q514.7,82.5 514.8,81.9 Q514.8,81.4 513.0,80.4 Q511.1,79.4 510.4,80.2 Q509.6,81.0 509.5,81.9 Q509.5,82.8 510.5,83.6 Q511.5,84.4 512.1,84.4 Q512.7,84.4 513.7,83.4Z" fill="#262626" stroke="#d0d0d0" stroke-width="0.9"/><path d="M516.8,79.3 Q516.4,80.5 516.8,81.0 Q517.2,81.5 517.6,81.7 Q518.0,81.9 518.4,81.9 Q518.8,82.0 519.6,81.8 Q520.3,81.5 520.4,79.3 Q520.4,77.1 519.7,76.9 Q519.1,76.7 518.1,77.4 Q517.1,78.1 516.8,79.3Z" fill="#262626" stroke="#d0d0d0" stroke-width="0.9"/><path d="M507.5,84.2 Q506.1,84.7 506.0,84.9 Q505.9,85.1 506.9,87.1 Q507.9,89.0 508.5,89.0 Q509.1,88.9 509.9,88.4 Q510.6,87.9 510.8,87.5 Q511.0,87.2 511.0,86.3 Q511.0,85.5 510.9,85.3 Q510.8,85.1 509.9,84.4 Q509.0,83.7 507.5,84.2Z" fill="#262626" stroke="#d0d0d0" stroke-width="0.9"/><path d="M502.4,91.9 Q502.3,90.8 501.8,90.4 Q501.3,90.1 500.6,90.1 Q499.9,90.1 499.6,90.2 Q499.3,90.4 499.0,90.9 Q498.6,91.4 498.5,91.7 Q498.5,92.1 498.7,92.7 Q498.9,93.3 499.4,93.7 Q499.9,94.1 500.6,94.1 Q501.3,94.1 501.5,93.9 Q501.8,93.8 502.2,93.4 Q502.5,93.0 502.4,91.9Z" fill="#262626" stroke="#d0d0d0" stroke-width="0.9"/><path d="M503.4,92.4 Q503.5,93.9 504.5,94.2 Q505.6,94.6 506.8,93.0 Q508.1,91.5 508.0,90.9 Q508.0,90.3 507.8,90.2 Q507.6,90.1 505.5,90.5 Q503.4,90.9 503.4,92.4Z" fill="#262626" stroke="#d0d0d0" stroke-width="0.9"/><path d="M513.3,88.9 Q512.8,88.6 512.1,88.6 Q511.4,88.5 510.4,89.3 Q509.4,90.0 509.2,90.5 Q509.0,91.1 509.0,91.3 Q509.1,91.4 510.8,92.8 Q512.5,94.2 513.1,94.0 Q513.6,93.8 514.1,93.1 Q514.6,92.4 514.6,91.3 Q514.5,90.2 514.2,89.7 Q513.8,89.2 513.3,88.9Z" fill="#262626" stroke="#d0d0d0" stroke-width="0.9"/><path d="M519.4,90.9 Q519.6,89.0 518.9,88.8 Q518.3,88.6 517.4,89.0 Q516.5,89.4 516.2,89.9 Q515.9,90.4 515.8,90.8 Q515.7,91.2 515.9,91.8 Q516.1,92.4 517.7,92.6 Q519.2,92.7 519.4,90.9Z" fill="#262626" stroke="#d0d0d0" stroke-width="0.9"/><path d="M513.4,97.5 Q513.3,98.2 514.7,99.1 Q516.0,100.1 516.6,99.8 Q517.3,99.6 517.5,99.3 Q517.8,99.1 518.0,98.6 Q518.2,98.1 516.5,96.7 Q514.9,95.2 514.3,95.6 Q513.7,96.1 513.5,96.4 Q513.4,96.8 513.4,97.5Z" fill="#262626" stroke="#d0d0d0" stroke-width="0.9"/><path d="M504.8,100.1 Q503.1,100.9 503.1,101.8 Q503.1,102.6 503.3,103.0 Q503.5,103.3 504.2,103.8 Q504.8,104.3 505.7,104.3 Q506.5,104.3 506.9,104.1 Q507.3,103.9 507.8,103.3 Q508.2,102.6 508.2,101.7 Q508.2,100.9 508.1,100.5 Q507.9,100.2 507.2,99.7 Q506.5,99.2 504.8,100.1Z" fill="#262626" stroke="#d0d0d0" stroke-width="0.9"/><path d="M514.1,100.0 Q512.8,99.0 512.1,99.3 Q511.5,99.5 511.0,100.1 Q510.6,100.8 510.6,101.5 Q510.6,102.3 511.0,103.0 Q511.5,103.6 511.8,103.8 Q512.2,104.0 513.0,104.0 Q513.8,104.0 514.4,103.5 Q515.0,103.0 515.2,102.7 Q515.4,102.3 515.4,101.6 Q515.4,100.9 514.1,100.0Z" fill="#262626" stroke="#d0d0d0" stroke-width="0.9"/></g>
<clipPath id="cpcr"><polygon points="420.0,4.0 514.0,4.0 516.0,20.0 518.0,40.0 520.0,60.0 521.0,80.0 519.0,100.0 515.0,115.0 511.0,128.0 400.0,128.0 398.0,100.0 400.0,70.0 399.0,40.0 418.0,32.0"/></clipPath>
<rect x="366" y="4" width="179" height="124" filter="url(#texC)" style="mix-blend-mode:overlay" opacity="0.45" clip-path="url(#cpcr)"/>
<g filter="url(#blur05)"><path d="M462.0,22.0 C463.2,21.3 467.2,23.2 470.0,24.0 C472.8,24.8 477.5,25.5 479.0,27.0 C480.5,28.5 480.5,32.2 479.0,33.0 C477.5,33.8 472.7,32.8 470.0,32.0 C467.3,31.2 464.3,29.7 463.0,28.0 C461.7,26.3 460.8,22.7 462.0,22.0Z" fill="#b5b5b5"/><path d="M398.0,39.0 C399.5,37.8 406.5,38.5 408.0,40.0 C409.5,41.5 408.5,46.8 407.0,48.0 C405.5,49.2 400.5,48.5 399.0,47.0 C397.5,45.5 396.5,40.2 398.0,39.0Z" fill="#c0c0c0"/><polyline points="420.0,4.0 422.0,12.0 425.0,22.0" fill="none" stroke="#d0d0d0" stroke-width="1.5" stroke-linejoin="round" stroke-linecap="round"/><polyline points="514.0,4.0 518.0,10.0 520.0,18.0" fill="none" stroke="#b8b8b8" stroke-width="2" stroke-linejoin="round" stroke-linecap="round"/></g>
<g filter="url(#blur05)"><polygon points="513.0,0.0 552.0,0.0 552.0,135.0 509.0,135.0 513.0,115.0 518.0,100.0 520.0,80.0 519.0,60.0 517.0,40.0 515.0,20.0" fill="#7b7b7b"/></g>
</g>
<rect x="366" y="128" width="179" height="9" fill="#000"/>
<rect x="367" y="129.2" width="7" height="6" fill="#2a2ae8"/>
<rect x="367.8" y="131" width="5.4" height="1.6" fill="#9a9af0"/>
<text x="376.5" y="131.3" font-size="3" fill="#ddd">1 μm</text>
<rect x="376" y="132.6" width="14" height="0.9" fill="#1faa3a"/>
<text x="403.5" y="133.3" font-size="3.1" fill="#cfcfcf">Mag =  1.50 K X</text>
<text x="428.5" y="133.3" font-size="3.1" fill="#cfcfcf">WD =  6.7 mm</text>
<text x="452.5" y="133.3" font-size="3.1" fill="#cfcfcf">EHT =  3.00 kV</text>
<text x="477" y="133.3" font-size="3.1" fill="#cfcfcf">Signal A = SE2</text>
<text x="502.5" y="133.3" font-size="3.1" fill="#cfcfcf">Date :13 Oct 2022</text>
<text x="369.4" y="15.4" font-size="9" font-weight="bold" fill="#fff">(c)</text>
<text x="13.8" y="168.4" font-size="9.4" font-weight="bold" fill="#111">(d)</text>
<path d="M181.00,222.00 A74.50,74.50 0 1,1 50.93,172.38 L72.19,191.36 A46.00,46.00 0 1,0 152.50,222.00 Z" fill="url(#g00C)"/>
<path d="M50.93,172.38 A74.50,74.50 0 0,1 158.51,168.66 L138.62,189.07 A46.00,46.00 0 0,0 72.19,191.36 Z" fill="url(#g00O)"/>
<path d="M158.51,168.66 A74.50,74.50 0 0,1 175.59,194.14 L149.16,204.80 A46.00,46.00 0 0,0 138.62,189.07 Z" fill="url(#g00Ca)"/>
<path d="M175.59,194.14 A74.50,74.50 0 0,1 177.06,198.09 L150.07,207.24 A46.00,46.00 0 0,0 149.16,204.80 Z" fill="url(#g00K)"/>
<path d="M177.06,198.09 A74.50,74.50 0 0,1 177.13,198.31 L150.11,207.37 A46.00,46.00 0 0,0 150.07,207.24 Z" fill="url(#g00Na)"/>
<path d="M177.13,198.31 A74.50,74.50 0 0,1 177.64,199.87 L150.42,208.34 A46.00,46.00 0 0,0 150.11,207.37 Z" fill="url(#g00Mg)"/>
<path d="M177.64,199.87 A74.50,74.50 0 0,1 178.66,203.47 L151.05,210.56 A46.00,46.00 0 0,0 150.42,208.34 Z" fill="url(#g00Mn)"/>
<path d="M178.66,203.47 A74.50,74.50 0 0,1 179.50,207.12 L151.57,212.81 A46.00,46.00 0 0,0 151.05,210.56 Z" fill="url(#g00Fe)"/>
<path d="M179.50,207.12 A74.50,74.50 0 0,1 179.68,208.04 L151.69,213.38 A46.00,46.00 0 0,0 151.57,212.81 Z" fill="url(#g00Al)"/>
<path d="M179.68,208.04 A74.50,74.50 0 0,1 181.00,222.00 L152.50,222.00 A46.00,46.00 0 0,0 151.69,213.38 Z" fill="url(#g00N)"/>
<path d="M149.50,222.00 A43.00,43.00 0 1,1 89.42,182.54 L100.34,207.77 A15.50,15.50 0 1,0 122.00,222.00 Z" fill="url(#g01C)"/>
<path d="M89.42,182.54 A43.00,43.00 0 0,1 147.94,210.52 L121.44,217.86 A15.50,15.50 0 0,0 100.34,207.77 Z" fill="url(#g01O)"/>
<path d="M147.94,210.52 A43.00,43.00 0 0,1 148.79,214.21 L121.74,219.19 A15.50,15.50 0 0,0 121.44,217.86 Z" fill="url(#g01Ca)"/>
<path d="M148.79,214.21 A43.00,43.00 0 0,1 149.46,220.11 L121.99,221.32 A15.50,15.50 0 0,0 121.74,219.19 Z" fill="url(#g01K)"/>
<path d="M149.46,220.11 A43.00,43.00 0 0,1 149.47,220.38 L121.99,221.42 A15.50,15.50 0 0,0 121.99,221.32 Z" fill="url(#g01Na)"/>
<path d="M149.47,220.38 A43.00,43.00 0 0,1 149.48,220.65 L121.99,221.51 A15.50,15.50 0 0,0 121.99,221.42 Z" fill="url(#g01Mg)"/>
<path d="M149.48,220.65 A43.00,43.00 0 0,1 149.49,221.05 L122.00,221.66 A15.50,15.50 0 0,0 121.99,221.51 Z" fill="url(#g01Mn)"/>
<path d="M149.49,221.05 A43.00,43.00 0 0,1 149.50,221.46 L122.00,221.81 A15.50,15.50 0 0,0 122.00,221.66 Z" fill="url(#g01Fe)"/>
<path d="M149.50,221.46 A43.00,43.00 0 0,1 149.50,221.73 L122.00,221.90 A15.50,15.50 0 0,0 122.00,221.81 Z" fill="url(#g01Al)"/>
<path d="M149.50,221.73 A43.00,43.00 0 0,1 149.50,222.00 L122.00,222.00 A15.50,15.50 0 0,0 122.00,221.90 Z" fill="url(#g01N)"/>
<text x="104.5" y="162.3" font-size="9.8" text-anchor="middle" dominant-baseline="central" fill="#1a1a1a" stroke="#1a1a1a" stroke-width="0.12">25.7%</text>
<text x="120.1" y="196.8" font-size="9.8" text-anchor="middle" dominant-baseline="central" fill="#1a1a1a" stroke="#1a1a1a" stroke-width="0.12">27.2%</text>
<text x="157.4" y="189.5" font-size="8" text-anchor="middle" dominant-baseline="central" fill="#1a1a1a" stroke="#1a1a1a" stroke-width="0.12" transform="rotate(-33 157.4 189.5)">6.6%</text>
<text x="167.5" y="216.3" font-size="7.8" text-anchor="middle" dominant-baseline="central" fill="#1a1a1a" stroke="#1a1a1a" stroke-width="0.12">3%</text>
<text x="90.1" y="247.9" font-size="9.8" text-anchor="middle" dominant-baseline="central" fill="#1a1a1a" stroke="#1a1a1a" stroke-width="0.12">68.5%</text>
<text x="84.6" y="278.1" font-size="9.8" text-anchor="middle" dominant-baseline="central" fill="#1a1a1a" stroke="#1a1a1a" stroke-width="0.12">61.6%</text>
<path d="M360.20,222.00 A74.50,74.50 0 1,1 263.57,150.86 L272.04,178.08 A46.00,46.00 0 1,0 331.70,222.00 Z" fill="url(#g10C)"/>
<path d="M263.57,150.86 A74.50,74.50 0 0,1 359.78,214.06 L331.44,217.10 A46.00,46.00 0 0,0 272.04,178.08 Z" fill="url(#g10O)"/>
<path d="M359.78,214.06 A74.50,74.50 0 0,1 359.95,215.92 L331.55,218.25 A46.00,46.00 0 0,0 331.44,217.10 Z" fill="url(#g10Ca)"/>
<path d="M359.95,215.92 A74.50,74.50 0 0,1 360.13,218.72 L331.66,219.98 A46.00,46.00 0 0,0 331.55,218.25 Z" fill="url(#g10K)"/>
<path d="M360.13,218.72 A74.50,74.50 0 0,1 360.17,219.89 L331.68,220.70 A46.00,46.00 0 0,0 331.66,219.98 Z" fill="url(#g10Mg)"/>
<path d="M360.17,219.89 A74.50,74.50 0 0,1 360.18,220.36 L331.69,220.99 A46.00,46.00 0 0,0 331.68,220.70 Z" fill="url(#g10Fe)"/>
<path d="M360.18,220.36 A74.50,74.50 0 0,1 360.20,222.00 L331.70,222.00 A46.00,46.00 0 0,0 331.69,220.99 Z" fill="url(#g10N)"/>
<path d="M328.70,222.00 A43.00,43.00 0 1,1 287.32,179.03 L286.28,206.51 A15.50,15.50 0 1,0 301.20,222.00 Z" fill="url(#g11C)"/>
<path d="M287.32,179.03 A43.00,43.00 0 0,1 325.78,206.42 L300.15,216.38 A15.50,15.50 0 0,0 286.28,206.51 Z" fill="url(#g11O)"/>
<path d="M325.78,206.42 A43.00,43.00 0 0,1 326.34,207.94 L300.35,216.93 A15.50,15.50 0 0,0 300.15,216.38 Z" fill="url(#g11Ca)"/>
<path d="M326.34,207.94 A43.00,43.00 0 0,1 328.25,215.81 L301.04,219.77 A15.50,15.50 0 0,0 300.35,216.93 Z" fill="url(#g11K)"/>
<path d="M328.25,215.81 A43.00,43.00 0 0,1 328.45,217.42 L301.11,220.35 A15.50,15.50 0 0,0 301.04,219.77 Z" fill="url(#g11Mg)"/>
<path d="M328.45,217.42 A43.00,43.00 0 0,1 328.70,222.00 L301.20,222.00 A15.50,15.50 0 0,0 301.11,220.35 Z" fill="url(#g11N)"/>
<text x="319.5" y="171.5" font-size="9.8" text-anchor="middle" dominant-baseline="central" fill="#1a1a1a" stroke="#1a1a1a" stroke-width="0.12">28.1%</text>
<text x="305.9" y="196.1" font-size="9.8" text-anchor="middle" dominant-baseline="central" fill="#1a1a1a" stroke="#1a1a1a" stroke-width="0.12">18.5%</text>
<text x="264.8" y="243.4" font-size="9.8" text-anchor="middle" dominant-baseline="central" fill="#1a1a1a" stroke="#1a1a1a" stroke-width="0.12">75.6%</text>
<text x="249.7" y="270.1" font-size="9.8" text-anchor="middle" dominant-baseline="central" fill="#1a1a1a" stroke="#1a1a1a" stroke-width="0.12">70.2%</text>
<path d="M540.50,221.60 A74.50,74.50 0 1,1 470.68,147.25 L468.89,175.69 A46.00,46.00 0 1,0 512.00,221.60 Z" fill="url(#g20C)"/>
<path d="M470.68,147.25 A74.50,74.50 0 0,1 539.51,209.48 L511.39,214.12 A46.00,46.00 0 0,0 468.89,175.69 Z" fill="url(#g20O)"/>
<path d="M539.51,209.48 A74.50,74.50 0 0,1 540.08,213.66 L511.74,216.70 A46.00,46.00 0 0,0 511.39,214.12 Z" fill="url(#g20Ca)"/>
<path d="M540.08,213.66 A74.50,74.50 0 0,1 540.38,217.39 L511.93,219.00 A46.00,46.00 0 0,0 511.74,216.70 Z" fill="url(#g20K)"/>
<path d="M540.38,217.39 A74.50,74.50 0 0,1 540.45,218.79 L511.97,219.87 A46.00,46.00 0 0,0 511.93,219.00 Z" fill="url(#g20Mg)"/>
<path d="M540.45,218.79 A74.50,74.50 0 0,1 540.50,221.60 L512.00,221.60 A46.00,46.00 0 0,0 511.97,219.87 Z" fill="url(#g20Al)"/>
<path d="M509.00,221.60 A43.00,43.00 0 1,1 476.96,180.02 L469.95,206.61 A15.50,15.50 0 1,0 481.50,221.60 Z" fill="url(#g21C)"/>
<path d="M476.96,180.02 A43.00,43.00 0 0,1 508.08,212.75 L481.17,218.41 A15.50,15.50 0 0,0 469.95,206.61 Z" fill="url(#g21O)"/>
<path d="M508.08,212.75 A43.00,43.00 0 0,1 508.38,214.34 L481.28,218.98 A15.50,15.50 0 0,0 481.17,218.41 Z" fill="url(#g21Ca)"/>
<path d="M508.38,214.34 A43.00,43.00 0 0,1 508.88,218.36 L481.46,220.43 A15.50,15.50 0 0,0 481.28,218.98 Z" fill="url(#g21K)"/>
<path d="M508.88,218.36 A43.00,43.00 0 0,1 508.96,219.71 L481.49,220.92 A15.50,15.50 0 0,0 481.46,220.43 Z" fill="url(#g21Mg)"/>
<path d="M508.96,219.71 A43.00,43.00 0 0,1 508.99,220.52 L481.50,221.21 A15.50,15.50 0 0,0 481.49,220.92 Z" fill="url(#g21Mn)"/>
<path d="M508.99,220.52 A43.00,43.00 0 0,1 509.00,221.60 L481.50,221.60 A15.50,15.50 0 0,0 481.50,221.21 Z" fill="url(#g21N)"/>
<text x="507.4" y="177.3" font-size="9.8" text-anchor="middle" dominant-baseline="central" fill="#1a1a1a" stroke="#1a1a1a" stroke-width="0.12">21.4%</text>
<text x="488.9" y="199.7" font-size="9.8" text-anchor="middle" dominant-baseline="central" fill="#1a1a1a" stroke="#1a1a1a" stroke-width="0.12">17.6%</text>
<text x="442.7" y="240.5" font-size="9.8" text-anchor="middle" dominant-baseline="central" fill="#1a1a1a" stroke="#1a1a1a" stroke-width="0.12">79.1%</text>
<text x="421.7" y="263.1" font-size="9.8" text-anchor="middle" dominant-baseline="central" fill="#1a1a1a" stroke="#1a1a1a" stroke-width="0.12">76%</text>
<text x="140.5" y="214.2" font-size="3.6" text-anchor="middle" dominant-baseline="central" fill="#333">1.4%</text>
<text x="140.5" y="218.4" font-size="3.6" text-anchor="middle" dominant-baseline="central" fill="#333">2.2%</text>
<text x="140.5" y="221.4" font-size="2.6" text-anchor="middle" dominant-baseline="central" fill="#333">0.04% 0.1%</text>
<text x="165.5" y="200" font-size="3" text-anchor="middle" dominant-baseline="central" fill="#333">0.9%</text>
<text x="166" y="204" font-size="3" text-anchor="middle" dominant-baseline="central" fill="#333">0.4%</text>
<text x="167" y="207.5" font-size="3" text-anchor="middle" dominant-baseline="central" fill="#333">1%</text>
<text x="167.5" y="211" font-size="2.6" text-anchor="middle" dominant-baseline="central" fill="#333">0.05%</text>
<text x="318.5" y="210.2" font-size="3" text-anchor="middle" dominant-baseline="central" fill="#333">0.6%</text>
<text x="319" y="213.2" font-size="3.4" text-anchor="middle" dominant-baseline="central" fill="#333">3%</text>
<text x="318.8" y="216.6" font-size="3" text-anchor="middle" dominant-baseline="central" fill="#333">0.6%</text>
<text x="320.7" y="221" font-size="3.4" text-anchor="middle" dominant-baseline="central" fill="#333">1.7%</text>
<text x="346" y="215.2" font-size="3" text-anchor="middle" dominant-baseline="central" fill="#333">1%</text>
<text x="346.5" y="217.8" font-size="3" text-anchor="middle" dominant-baseline="central" fill="#333">1%</text>
<text x="347.5" y="220.6" font-size="3" text-anchor="middle" dominant-baseline="central" fill="#333">0.4%</text>
<text x="497" y="213.6" font-size="2.8" text-anchor="middle" dominant-baseline="central" fill="#333">0.6%</text>
<text x="497" y="216.6" font-size="3" text-anchor="middle" dominant-baseline="central" fill="#333">1.5%</text>
<text x="497" y="219.2" font-size="2.4" text-anchor="middle" dominant-baseline="central" fill="#333">0.5% 0.3%</text>
<text x="497.5" y="221.8" font-size="2.8" text-anchor="middle" dominant-baseline="central" fill="#333">0.4%</text>
<text x="526" y="213" font-size="3" text-anchor="middle" dominant-baseline="central" fill="#333">0.9%</text>
<text x="526" y="215.8" font-size="3" text-anchor="middle" dominant-baseline="central" fill="#333">0.8%</text>
<text x="526" y="218.2" font-size="2.6" text-anchor="middle" dominant-baseline="central" fill="#333">0.3%</text>
<text x="526.5" y="220.6" font-size="3" text-anchor="middle" dominant-baseline="central" fill="#333">0.6%</text>
<text x="9" y="223" font-size="10.6" fill="#111" stroke="#111" stroke-width="0.2">3BC</text>
<text x="9" y="241" font-size="10.6" fill="#111" stroke="#111" stroke-width="0.2">3BC (60d)</text>
<path d="M21,225 H67.7" stroke="#6d9ad6" stroke-width="1.1"/><path d="M66.7,222.8 L71.7,225 L66.7,227.2 Z" fill="#6d9ad6"/>
<path d="M21,242.6 H51.3" stroke="#6d9ad6" stroke-width="1.1"/><path d="M50.3,240.4 L55.3,242.6 L50.3,244.8 Z" fill="#6d9ad6"/>
<text x="188.4" y="223" font-size="10.6" fill="#111" stroke="#111" stroke-width="0.2">5BC</text>
<text x="188.4" y="241" font-size="10.6" fill="#111" stroke="#111" stroke-width="0.2">5BC (60d)</text>
<path d="M200.4,225 H247.3" stroke="#6d9ad6" stroke-width="1.1"/><path d="M246.3,222.8 L251.3,225 L246.3,227.2 Z" fill="#6d9ad6"/>
<path d="M200.4,242.6 H231.3" stroke="#6d9ad6" stroke-width="1.1"/><path d="M230.3,240.4 L235.3,242.6 L230.3,244.8 Z" fill="#6d9ad6"/>
<text x="367.6" y="223" font-size="10.6" fill="#111" stroke="#111" stroke-width="0.2">7BC</text>
<text x="367.6" y="241" font-size="10.6" fill="#111" stroke="#111" stroke-width="0.2">7BC (60d)</text>
<path d="M379.6,225 H427.2" stroke="#6d9ad6" stroke-width="1.1"/><path d="M426.2,222.8 L431.2,225 L426.2,227.2 Z" fill="#6d9ad6"/>
<path d="M379.6,242.6 H410.8" stroke="#6d9ad6" stroke-width="1.1"/><path d="M409.8,240.4 L414.8,242.6 L409.8,244.8 Z" fill="#6d9ad6"/>
<rect x="80" y="306.2" width="19.2" height="8.8" fill="url(#lgC)"/>
<text x="102.5" y="314.2" font-size="10.2" fill="#222">C</text>
<rect x="117" y="306.2" width="19.2" height="8.8" fill="url(#lgO)"/>
<text x="139.5" y="314.2" font-size="10.2" fill="#222">O</text>
<rect x="154" y="306.2" width="19.2" height="8.8" fill="url(#lgCa)"/>
<text x="176.5" y="314.2" font-size="10.2" fill="#222">Ca</text>
<rect x="196" y="306.2" width="19.2" height="8.8" fill="url(#lgK)"/>
<text x="218.5" y="314.2" font-size="10.2" fill="#222">K</text>
<rect x="232.6" y="306.2" width="19.2" height="8.8" fill="url(#lgNa)"/>
<text x="255.1" y="314.2" font-size="10.2" fill="#222">Na</text>
<rect x="274" y="306.2" width="19.2" height="8.8" fill="url(#lgMg)"/>
<text x="296.5" y="314.2" font-size="10.2" fill="#222">Mg</text>
<rect x="317" y="306.2" width="19.2" height="8.8" fill="url(#lgMn)"/>
<text x="339.5" y="314.2" font-size="10.2" fill="#222">Mn</text>
<rect x="360" y="306.2" width="19.2" height="8.8" fill="url(#lgFe)"/>
<text x="382.5" y="314.2" font-size="10.2" fill="#222">Fe</text>
<rect x="400.2" y="306.2" width="19.2" height="8.8" fill="url(#lgAl)"/>
<text x="422.7" y="314.2" font-size="10.2" fill="#222">Al</text>
<rect x="438.7" y="306.2" width="19.2" height="8.8" fill="url(#lgN)"/>
<text x="461.2" y="314.2" font-size="10.2" fill="#222">N</text>
<path d="M61.50,331.80 V503.80 H273.60" fill="none" stroke="#111" stroke-width="1.4"/>
<path d="M57.50,503.80 H61.50" stroke="#111" stroke-width="1.2"/>
<text x="55.70" y="507.10" font-size="9.3" text-anchor="end" fill="#333">0</text>
<path d="M57.50,475.28 H61.50" stroke="#111" stroke-width="1.2"/>
<text x="55.70" y="478.58" font-size="9.3" text-anchor="end" fill="#333">4</text>
<path d="M57.50,446.76 H61.50" stroke="#111" stroke-width="1.2"/>
<text x="55.70" y="450.06" font-size="9.3" text-anchor="end" fill="#333">8</text>
<path d="M57.50,418.24 H61.50" stroke="#111" stroke-width="1.2"/>
<text x="55.70" y="421.54" font-size="9.3" text-anchor="end" fill="#333">12</text>
<path d="M57.50,389.72 H61.50" stroke="#111" stroke-width="1.2"/>
<text x="55.70" y="393.02" font-size="9.3" text-anchor="end" fill="#333">16</text>
<path d="M57.50,361.20 H61.50" stroke="#111" stroke-width="1.2"/>
<text x="55.70" y="364.50" font-size="9.3" text-anchor="end" fill="#333">20</text>
<path d="M57.50,332.68 H61.50" stroke="#111" stroke-width="1.2"/>
<text x="55.70" y="335.98" font-size="9.3" text-anchor="end" fill="#333">24</text>
<path d="M82.60,503.80 V507.30" stroke="#111" stroke-width="1.2"/>
<text x="82.60" y="517.40" font-size="9.3" text-anchor="middle" fill="#333">5</text>
<path d="M125.00,503.80 V507.30" stroke="#111" stroke-width="1.2"/>
<text x="125.00" y="517.40" font-size="9.3" text-anchor="middle" fill="#333">15</text>
<path d="M167.50,503.80 V507.30" stroke="#111" stroke-width="1.2"/>
<text x="167.50" y="517.40" font-size="9.3" text-anchor="middle" fill="#333">30</text>
<path d="M209.90,503.80 V507.30" stroke="#111" stroke-width="1.2"/>
<text x="209.90" y="517.40" font-size="9.3" text-anchor="middle" fill="#333">45</text>
<path d="M252.30,503.80 V507.30" stroke="#111" stroke-width="1.2"/>
<text x="252.30" y="517.40" font-size="9.3" text-anchor="middle" fill="#333">60</text>
<text x="169.50" y="528.10" font-size="10.4" text-anchor="middle" fill="#333">Time (d)</text>
<text x="66" y="334.6" font-size="8.8" font-weight="bold" fill="#222">(e)</text>
<text transform="translate(22.2,500) rotate(-90)" font-size="10.6" fill="#333">MgCl<tspan font-size="7" dy="2">2</tspan><tspan dy="-2">-extracted phytoavailable Hg</tspan></text>
<text transform="translate(37.6,462.5) rotate(-90)" font-size="10.6" fill="#333">concentrations (μg kg<tspan font-size="7" dy="-4">−1</tspan><tspan dy="4">)</tspan></text>
<rect x="186.90" y="336.10" width="7" height="7" fill="#6aaee0"/>
<circle cx="190.40" cy="350.10" r="4" fill="#3cbb75"/>
<path d="M190.40,356.70 L194.75,363.30 L186.05,363.30 Z" fill="#3479b0"/>
<path d="M186.05,367.20 L194.75,367.20 L190.40,374.80 Z" fill="#22566e"/>
<text x="203.7" y="342.70" font-size="8.6" fill="#333" textLength="12.8" lengthAdjust="spacingAndGlyphs">CK</text>
<text x="203.7" y="353.30" font-size="8.6" fill="#333" textLength="17.7" lengthAdjust="spacingAndGlyphs">3BC</text>
<text x="203.7" y="363.90" font-size="8.6" fill="#333" textLength="17.7" lengthAdjust="spacingAndGlyphs">5BC</text>
<text x="203.7" y="374.50" font-size="8.6" fill="#333" textLength="17.7" lengthAdjust="spacingAndGlyphs">7BC</text>
<path d="M82.60,340.40 V380.20" stroke="#111" stroke-width="1.25"/><path d="M80.50,340.40 h4.2 M80.50,380.20 h4.2" stroke="#111" stroke-width="1.25"/>
<path d="M80.50,371.00 h4.2" stroke="#111" stroke-width="1.25"/>
<rect x="79.50" y="352.90" width="6.2" height="6.2" fill="#6aaee0"/>
<circle cx="82.60" cy="366.80" r="3.6" fill="#3cbb75"/>
<path d="M82.60,416.00 L86.90,422.70 L78.30,422.70 Z" fill="#3479b0"/>
<path d="M78.30,423.50 L86.90,423.50 L82.60,431.30 Z" fill="#22566e"/>
<path d="M82.60,415.50 V431.00" stroke="#111" stroke-width="1.25"/>
<path d="M125.00,404.30 V426.70" stroke="#111" stroke-width="1.25"/><path d="M122.90,404.30 h4.2 M122.90,426.70 h4.2" stroke="#111" stroke-width="1.25"/>
<rect x="121.90" y="412.30" width="6.2" height="6.2" fill="#6aaee0"/>
<path d="M122.90,430.20 h4.2" stroke="#111" stroke-width="1.25"/>
<circle cx="125.00" cy="435.40" r="3.6" fill="#3cbb75"/>
<path d="M125.00,437.50 L129.30,444.50 L120.70,444.50 Z" fill="#3479b0"/>
<path d="M120.70,442.00 L129.30,442.00 L125.00,449.00 Z" fill="#22566e"/>
<path d="M125.00,437.00 V449.00" stroke="#111" stroke-width="1.25"/>
<rect x="164.40" y="421.50" width="6.2" height="6.2" fill="#6aaee0"/>
<path d="M167.50,422.00 V427.20" stroke="#111" stroke-width="1.25"/><path d="M165.40,422.00 h4.2 M165.40,427.20 h4.2" stroke="#111" stroke-width="1.25"/>
<path d="M167.50,431.50 V443.20" stroke="#111" stroke-width="1.25"/><path d="M165.40,431.50 h4.2 M165.40,443.20 h4.2" stroke="#111" stroke-width="1.25"/>
<circle cx="167.50" cy="437.40" r="3.6" fill="#3cbb75"/>
<path d="M167.50,453.60 L171.80,460.50 L163.20,460.50 Z" fill="#3479b0"/>
<path d="M163.20,460.50 L171.80,460.50 L167.50,468.00 Z" fill="#22566e"/>
<path d="M167.50,453.00 V468.00" stroke="#111" stroke-width="1.25"/>
<rect x="206.80" y="407.10" width="6.2" height="6.2" fill="#6aaee0"/>
<path d="M207.80,407.20 h4.2" stroke="#111" stroke-width="1.25"/>
<path d="M207.80,413.00 h4.2" stroke="#111" stroke-width="1.25"/>
<path d="M209.90,416.70 V446.90" stroke="#111" stroke-width="1.25"/><path d="M207.80,416.70 h4.2 M207.80,446.90 h4.2" stroke="#111" stroke-width="1.25"/>
<circle cx="209.90" cy="427.40" r="3.6" fill="#3cbb75"/>
<path d="M209.90,431.00 V448.00" stroke="#111" stroke-width="1.25"/>
<path d="M209.90,432.80 L214.20,440.00 L205.60,440.00 Z" fill="#3479b0"/>
<path d="M205.60,440.00 L214.20,440.00 L209.90,447.50 Z" fill="#22566e"/>
<rect x="249.20" y="399.50" width="6.2" height="6.2" fill="#6aaee0"/>
<path d="M250.20,399.50 h4.2" stroke="#111" stroke-width="1.25"/>
<path d="M250.20,405.60 h4.2" stroke="#111" stroke-width="1.25"/>
<circle cx="252.30" cy="410.00" r="3.6" fill="#3cbb75"/>
<path d="M250.20,413.40 h4.2" stroke="#111" stroke-width="1.25"/>
<path d="M250.20,419.50 h4.2" stroke="#111" stroke-width="1.25"/>
<path d="M252.30,419.50 V441.00" stroke="#111" stroke-width="1.25"/>
<path d="M252.30,421.80 L256.60,428.60 L248.00,428.60 Z" fill="#3479b0"/>
<path d="M248.00,431.40 L256.60,431.40 L252.30,440.00 Z" fill="#22566e"/>
<path d="M250.20,441.00 h4.2" stroke="#111" stroke-width="1.25"/>
<path d="M327.40,332.00 V504.00 H539.00" fill="none" stroke="#111" stroke-width="1.4"/>
<path d="M323.40,504.00 H327.40" stroke="#111" stroke-width="1.2"/>
<text x="321.60" y="507.30" font-size="9.3" text-anchor="end" fill="#333">0</text>
<path d="M323.40,472.85 H327.40" stroke="#111" stroke-width="1.2"/>
<text x="321.60" y="476.15" font-size="9.3" text-anchor="end" fill="#333">1</text>
<path d="M323.40,441.70 H327.40" stroke="#111" stroke-width="1.2"/>
<text x="321.60" y="445.00" font-size="9.3" text-anchor="end" fill="#333">2</text>
<path d="M323.40,410.55 H327.40" stroke="#111" stroke-width="1.2"/>
<text x="321.60" y="413.85" font-size="9.3" text-anchor="end" fill="#333">3</text>
<path d="M323.40,379.40 H327.40" stroke="#111" stroke-width="1.2"/>
<text x="321.60" y="382.70" font-size="9.3" text-anchor="end" fill="#333">4</text>
<path d="M323.40,348.25 H327.40" stroke="#111" stroke-width="1.2"/>
<text x="321.60" y="351.55" font-size="9.3" text-anchor="end" fill="#333">5</text>
<path d="M349.00,504.00 V507.50" stroke="#111" stroke-width="1.2"/>
<text x="349.00" y="517.60" font-size="9.3" text-anchor="middle" fill="#333">5</text>
<path d="M391.50,504.00 V507.50" stroke="#111" stroke-width="1.2"/>
<text x="391.50" y="517.60" font-size="9.3" text-anchor="middle" fill="#333">15</text>
<path d="M434.00,504.00 V507.50" stroke="#111" stroke-width="1.2"/>
<text x="434.00" y="517.60" font-size="9.3" text-anchor="middle" fill="#333">30</text>
<path d="M476.50,504.00 V507.50" stroke="#111" stroke-width="1.2"/>
<text x="476.50" y="517.60" font-size="9.3" text-anchor="middle" fill="#333">45</text>
<path d="M519.00,504.00 V507.50" stroke="#111" stroke-width="1.2"/>
<text x="519.00" y="517.60" font-size="9.3" text-anchor="middle" fill="#333">60</text>
<text x="434.00" y="528.30" font-size="10.4" text-anchor="middle" fill="#333">Time (d)</text>
<text x="331.3" y="334" font-size="8.8" font-weight="bold" fill="#222">(f)</text>
<text transform="translate(297.6,479.5) rotate(-90)" font-size="10.6" fill="#333">Hg contents absorbed by</text>
<text transform="translate(309,460.2) rotate(-90)" font-size="10.6" fill="#333">biochar (mg kg<tspan font-size="7" dy="-4">−1</tspan><tspan dy="4">)</tspan></text>
<circle cx="465.90" cy="339.40" r="4.1" fill="#3cbb75"/>
<path d="M465.90,345.90 L470.25,352.90 L461.55,352.90 Z" fill="#3479b0"/>
<path d="M461.55,359.00 L470.25,359.00 L465.90,365.90 Z" fill="#22566e"/>
<text x="479.1" y="342.70" font-size="8.6" fill="#333" textLength="17.7" lengthAdjust="spacingAndGlyphs">3BC</text>
<text x="479.1" y="353.30" font-size="8.6" fill="#333" textLength="17.7" lengthAdjust="spacingAndGlyphs">5BC</text>
<text x="479.1" y="363.90" font-size="8.6" fill="#333" textLength="17.7" lengthAdjust="spacingAndGlyphs">7BC</text>
<path d="M349.00,361.50 V370.00" stroke="#111" stroke-width="1.25"/><path d="M346.90,361.50 h4.2 M346.90,370.00 h4.2" stroke="#111" stroke-width="1.25"/>
<path d="M349.00,362.00 L353.30,369.20 L344.70,369.20 Z" fill="#3479b0"/>
<path d="M346.90,394.50 h4.2" stroke="#111" stroke-width="1.25"/>
<path d="M344.70,395.20 L353.30,395.20 L349.00,403.50 Z" fill="#22566e"/>
<path d="M349.00,414.40 V437.30" stroke="#111" stroke-width="1.25"/><path d="M346.90,414.40 h4.2 M346.90,437.30 h4.2" stroke="#111" stroke-width="1.25"/>
<circle cx="349.00" cy="426.10" r="3.6" fill="#3cbb75"/>
<path d="M391.50,389.80 V433.40" stroke="#111" stroke-width="1.25"/><path d="M389.40,389.80 h4.2 M389.40,433.40 h4.2" stroke="#111" stroke-width="1.25"/>
<path d="M391.50,403.50 L395.80,409.70 L387.20,409.70 Z" fill="#3479b0"/>
<path d="M387.20,426.30 L395.80,426.30 L391.50,433.40 Z" fill="#22566e"/>
<circle cx="391.50" cy="439.30" r="3.6" fill="#3cbb75"/>
<path d="M390.00,439.30 h3" stroke="#111" stroke-width="1.25"/>
<path d="M434.00,371.40 V381.40" stroke="#111" stroke-width="1.25"/><path d="M431.90,371.40 h4.2 M431.90,381.40 h4.2" stroke="#111" stroke-width="1.25"/>
<path d="M429.70,373.70 L438.30,373.70 L434.00,381.40 Z" fill="#22566e"/>
<path d="M434.00,406.80 V429.80" stroke="#111" stroke-width="1.25"/><path d="M431.90,406.80 h4.2 M431.90,429.80 h4.2" stroke="#111" stroke-width="1.25"/>
<path d="M434.00,414.40 L438.30,420.60 L429.70,420.60 Z" fill="#3479b0"/>
<path d="M434.00,444.00 V455.00" stroke="#111" stroke-width="1.25"/><path d="M431.90,444.00 h4.2 M431.90,455.00 h4.2" stroke="#111" stroke-width="1.25"/>
<circle cx="434.00" cy="449.50" r="3.6" fill="#3cbb75"/>
<path d="M476.50,407.60 V424.10" stroke="#111" stroke-width="1.25"/><path d="M474.40,407.60 h4.2 M474.40,424.10 h4.2" stroke="#111" stroke-width="1.25"/>
<path d="M476.50,413.50 L480.80,420.50 L472.20,420.50 Z" fill="#3479b0"/>
<path d="M472.20,414.50 L480.80,414.50 L476.50,421.50 Z" fill="#22566e"/>
<circle cx="0.00" cy="0.00" r="0" fill="#3cbb75"/>
<path d="M476.50,451.90 V467.10" stroke="#111" stroke-width="1.25"/><path d="M474.40,451.90 h4.2 M474.40,467.10 h4.2" stroke="#111" stroke-width="1.25"/>
<circle cx="476.50" cy="459.30" r="3.6" fill="#3cbb75"/>
<path d="M519.00,369.20 V382.60" stroke="#111" stroke-width="1.25"/><path d="M516.90,369.20 h4.2 M516.90,382.60 h4.2" stroke="#111" stroke-width="1.25"/>
<path d="M514.70,373.00 L523.30,373.00 L519.00,381.70 Z" fill="#22566e"/>
<path d="M519.00,401.00 L523.30,408.80 L514.70,408.80 Z" fill="#3479b0"/>
<circle cx="519.00" cy="442.00" r="3.6" fill="#3cbb75"/>
<path d="M519.00,440.00 V444.00" stroke="#111" stroke-width="1.25"/><path d="M517.75,440.00 h2.5 M517.75,444.00 h2.5" stroke="#111" stroke-width="1.25"/>
</svg>
</body></html>
